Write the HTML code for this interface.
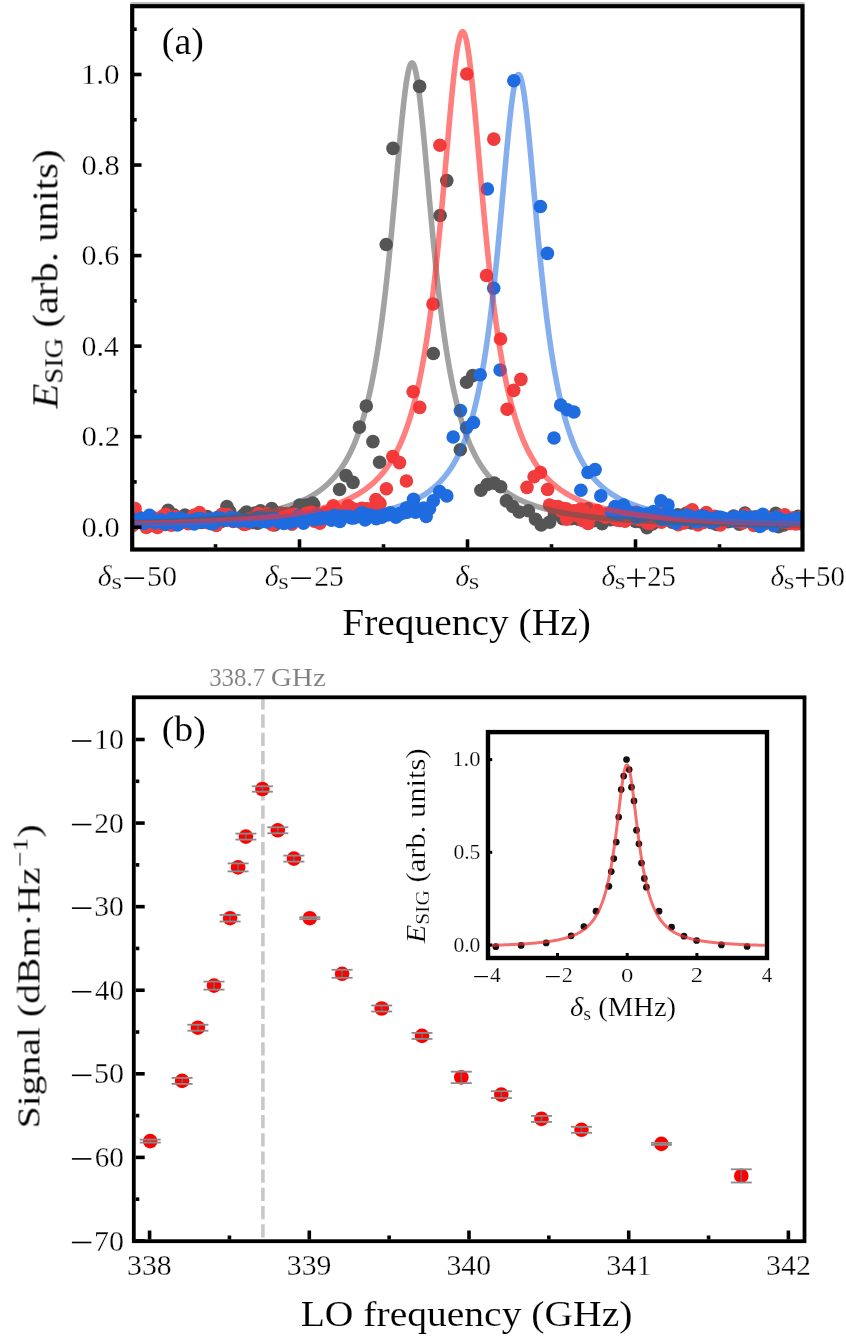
<!DOCTYPE html><html><head><meta charset="utf-8"><title>figure</title><style>html,body{margin:0;padding:0;background:#fff;width:846px;height:1336px;overflow:hidden}</style></head><body><svg width="846" height="1336" viewBox="0 0 846 1336" style="display:block">
<rect width="846" height="1336" fill="#fff"/>
<defs><clipPath id="clipa"><rect x="134.3" y="8.3" width="666.3" height="539.2"/></clipPath><clipPath id="clipi"><rect x="490.2" y="734.3" width="274.6" height="221.6"/></clipPath></defs>
<g clip-path="url(#clipa)">
<g fill="#555555"><circle cx="305.5" cy="505.1" r="6.8"/><circle cx="312.6" cy="503.0" r="6.8"/><circle cx="339.6" cy="489.5" r="6.8"/><circle cx="346.0" cy="475.6" r="6.8"/><circle cx="353.0" cy="482.4" r="6.8"/><circle cx="359.4" cy="427.1" r="6.8"/><circle cx="366.3" cy="406.0" r="6.8"/><circle cx="372.9" cy="441.6" r="6.8"/><circle cx="379.6" cy="462.3" r="6.8"/><circle cx="386.2" cy="244.5" r="6.8"/><circle cx="393.0" cy="148.4" r="6.8"/><circle cx="419.6" cy="86.4" r="6.8"/><circle cx="433.3" cy="353.5" r="6.8"/><circle cx="440.1" cy="215.5" r="6.8"/><circle cx="446.8" cy="180.6" r="6.8"/><circle cx="460.3" cy="449.8" r="6.8"/><circle cx="466.6" cy="382.3" r="6.8"/><circle cx="472.7" cy="375.6" r="6.8"/><circle cx="480.9" cy="490.2" r="6.8"/><circle cx="487.2" cy="484.5" r="6.8"/><circle cx="494.3" cy="483.1" r="6.8"/><circle cx="500.7" cy="486.7" r="6.8"/><circle cx="506.4" cy="500.9" r="6.8"/><circle cx="512.8" cy="506.5" r="6.8"/><circle cx="519.2" cy="512.0" r="6.8"/><circle cx="528.4" cy="510.8" r="6.8"/><circle cx="535.5" cy="519.3" r="6.8"/><circle cx="541.2" cy="525.0" r="6.8"/><circle cx="549.7" cy="522.1" r="6.8"/><circle cx="128.9" cy="527.3" r="6.8"/><circle cx="131.7" cy="522.9" r="6.8"/><circle cx="134.5" cy="524.0" r="6.8"/><circle cx="137.3" cy="519.1" r="6.8"/><circle cx="140.1" cy="521.8" r="6.8"/><circle cx="142.9" cy="521.1" r="6.8"/><circle cx="145.7" cy="524.7" r="6.8"/><circle cx="148.5" cy="520.2" r="6.8"/><circle cx="151.3" cy="519.4" r="6.8"/><circle cx="154.1" cy="521.2" r="6.8"/><circle cx="156.9" cy="520.2" r="6.8"/><circle cx="159.7" cy="518.3" r="6.8"/><circle cx="162.5" cy="517.7" r="6.8"/><circle cx="165.3" cy="524.5" r="6.8"/><circle cx="168.1" cy="510.3" r="6.8"/><circle cx="170.9" cy="517.0" r="6.8"/><circle cx="173.7" cy="514.7" r="6.8"/><circle cx="176.5" cy="520.5" r="6.8"/><circle cx="179.3" cy="520.9" r="6.8"/><circle cx="182.1" cy="520.7" r="6.8"/><circle cx="184.9" cy="515.1" r="6.8"/><circle cx="187.7" cy="518.8" r="6.8"/><circle cx="190.5" cy="517.1" r="6.8"/><circle cx="193.3" cy="518.3" r="6.8"/><circle cx="196.1" cy="519.0" r="6.8"/><circle cx="198.9" cy="518.1" r="6.8"/><circle cx="201.7" cy="522.5" r="6.8"/><circle cx="204.5" cy="518.0" r="6.8"/><circle cx="207.3" cy="516.5" r="6.8"/><circle cx="210.1" cy="522.1" r="6.8"/><circle cx="212.9" cy="521.1" r="6.8"/><circle cx="215.7" cy="521.6" r="6.8"/><circle cx="218.5" cy="520.4" r="6.8"/><circle cx="221.3" cy="521.5" r="6.8"/><circle cx="224.1" cy="520.3" r="6.8"/><circle cx="226.9" cy="506.5" r="6.8"/><circle cx="229.7" cy="511.6" r="6.8"/><circle cx="232.5" cy="518.1" r="6.8"/><circle cx="235.3" cy="518.6" r="6.8"/><circle cx="238.1" cy="520.6" r="6.8"/><circle cx="240.9" cy="517.2" r="6.8"/><circle cx="243.7" cy="514.7" r="6.8"/><circle cx="246.5" cy="512.1" r="6.8"/><circle cx="249.3" cy="514.7" r="6.8"/><circle cx="252.1" cy="522.4" r="6.8"/><circle cx="254.9" cy="513.0" r="6.8"/><circle cx="257.7" cy="523.2" r="6.8"/><circle cx="260.5" cy="510.9" r="6.8"/><circle cx="263.3" cy="516.3" r="6.8"/><circle cx="266.1" cy="516.3" r="6.8"/><circle cx="268.9" cy="514.1" r="6.8"/><circle cx="271.7" cy="508.5" r="6.8"/><circle cx="274.5" cy="524.9" r="6.8"/><circle cx="277.3" cy="513.5" r="6.8"/><circle cx="280.1" cy="516.1" r="6.8"/><circle cx="282.9" cy="513.9" r="6.8"/><circle cx="285.7" cy="518.5" r="6.8"/><circle cx="288.5" cy="518.4" r="6.8"/><circle cx="291.3" cy="514.0" r="6.8"/><circle cx="294.1" cy="512.0" r="6.8"/><circle cx="296.9" cy="517.4" r="6.8"/><circle cx="299.7" cy="505.1" r="6.8"/><circle cx="302.5" cy="512.1" r="6.8"/><circle cx="305.3" cy="513.5" r="6.8"/><circle cx="308.1" cy="511.2" r="6.8"/><circle cx="310.9" cy="509.2" r="6.8"/><circle cx="313.7" cy="504.5" r="6.8"/><circle cx="554.5" cy="513.7" r="6.8"/><circle cx="557.3" cy="514.2" r="6.8"/><circle cx="560.1" cy="512.4" r="6.8"/><circle cx="562.9" cy="518.6" r="6.8"/><circle cx="565.7" cy="516.0" r="6.8"/><circle cx="568.5" cy="517.0" r="6.8"/><circle cx="571.3" cy="518.8" r="6.8"/><circle cx="574.1" cy="518.2" r="6.8"/><circle cx="576.9" cy="518.6" r="6.8"/><circle cx="579.7" cy="519.5" r="6.8"/><circle cx="582.5" cy="516.4" r="6.8"/><circle cx="585.3" cy="518.8" r="6.8"/><circle cx="588.1" cy="508.8" r="6.8"/><circle cx="590.9" cy="517.0" r="6.8"/><circle cx="593.7" cy="520.8" r="6.8"/><circle cx="596.5" cy="516.4" r="6.8"/><circle cx="599.3" cy="519.8" r="6.8"/><circle cx="602.1" cy="523.6" r="6.8"/><circle cx="604.9" cy="514.3" r="6.8"/><circle cx="607.7" cy="519.5" r="6.8"/><circle cx="610.5" cy="519.8" r="6.8"/><circle cx="613.3" cy="516.3" r="6.8"/><circle cx="616.1" cy="518.9" r="6.8"/><circle cx="618.9" cy="519.1" r="6.8"/><circle cx="621.7" cy="513.1" r="6.8"/><circle cx="624.5" cy="520.3" r="6.8"/><circle cx="627.3" cy="516.5" r="6.8"/><circle cx="630.1" cy="517.8" r="6.8"/><circle cx="632.9" cy="518.5" r="6.8"/><circle cx="635.7" cy="521.4" r="6.8"/><circle cx="638.5" cy="520.5" r="6.8"/><circle cx="641.3" cy="522.0" r="6.8"/><circle cx="644.1" cy="521.3" r="6.8"/><circle cx="646.9" cy="527.6" r="6.8"/><circle cx="649.7" cy="517.0" r="6.8"/><circle cx="652.5" cy="523.9" r="6.8"/><circle cx="655.3" cy="519.1" r="6.8"/><circle cx="658.1" cy="518.2" r="6.8"/><circle cx="660.9" cy="521.3" r="6.8"/><circle cx="663.7" cy="515.5" r="6.8"/><circle cx="666.5" cy="513.6" r="6.8"/><circle cx="669.3" cy="518.7" r="6.8"/><circle cx="672.1" cy="522.2" r="6.8"/><circle cx="674.9" cy="517.8" r="6.8"/><circle cx="677.7" cy="514.7" r="6.8"/><circle cx="680.5" cy="517.8" r="6.8"/><circle cx="683.3" cy="520.8" r="6.8"/><circle cx="686.1" cy="513.3" r="6.8"/><circle cx="688.9" cy="522.2" r="6.8"/><circle cx="691.7" cy="522.9" r="6.8"/><circle cx="694.5" cy="522.2" r="6.8"/><circle cx="697.3" cy="519.3" r="6.8"/><circle cx="700.1" cy="519.5" r="6.8"/><circle cx="702.9" cy="517.7" r="6.8"/><circle cx="705.7" cy="520.8" r="6.8"/><circle cx="708.5" cy="520.9" r="6.8"/><circle cx="711.3" cy="522.7" r="6.8"/><circle cx="714.1" cy="518.2" r="6.8"/><circle cx="716.9" cy="524.4" r="6.8"/><circle cx="719.7" cy="520.9" r="6.8"/><circle cx="722.5" cy="518.3" r="6.8"/><circle cx="725.3" cy="520.6" r="6.8"/><circle cx="728.1" cy="521.6" r="6.8"/><circle cx="730.9" cy="519.8" r="6.8"/><circle cx="733.7" cy="516.1" r="6.8"/><circle cx="736.5" cy="517.6" r="6.8"/><circle cx="739.3" cy="524.2" r="6.8"/><circle cx="742.1" cy="521.9" r="6.8"/><circle cx="744.9" cy="513.0" r="6.8"/><circle cx="747.7" cy="520.3" r="6.8"/><circle cx="750.5" cy="519.9" r="6.8"/><circle cx="753.3" cy="521.0" r="6.8"/><circle cx="756.1" cy="516.9" r="6.8"/><circle cx="758.9" cy="518.6" r="6.8"/><circle cx="761.7" cy="519.8" r="6.8"/><circle cx="764.5" cy="523.6" r="6.8"/><circle cx="767.3" cy="517.4" r="6.8"/><circle cx="770.1" cy="518.4" r="6.8"/><circle cx="772.9" cy="518.3" r="6.8"/><circle cx="775.7" cy="513.3" r="6.8"/><circle cx="778.5" cy="526.7" r="6.8"/><circle cx="781.3" cy="523.6" r="6.8"/><circle cx="784.1" cy="525.0" r="6.8"/><circle cx="786.9" cy="522.3" r="6.8"/><circle cx="789.7" cy="521.7" r="6.8"/><circle cx="792.5" cy="520.1" r="6.8"/><circle cx="795.3" cy="520.6" r="6.8"/><circle cx="798.1" cy="516.3" r="6.8"/><circle cx="800.9" cy="523.6" r="6.8"/><circle cx="803.7" cy="520.1" r="6.8"/><circle cx="806.5" cy="520.9" r="6.8"/><circle cx="809.3" cy="523.3" r="6.8"/></g>
<g fill="#f03c3c"><circle cx="333.2" cy="505.8" r="6.8"/><circle cx="380.0" cy="503.7" r="6.8"/><circle cx="386.4" cy="488.8" r="6.8"/><circle cx="392.8" cy="456.6" r="6.8"/><circle cx="399.5" cy="462.6" r="6.8"/><circle cx="406.4" cy="481.0" r="6.8"/><circle cx="413.1" cy="391.7" r="6.8"/><circle cx="419.7" cy="407.4" r="6.8"/><circle cx="433.0" cy="304.0" r="6.8"/><circle cx="439.9" cy="145.3" r="6.8"/><circle cx="466.8" cy="74.0" r="6.8"/><circle cx="486.5" cy="275.5" r="6.8"/><circle cx="493.8" cy="139.1" r="6.8"/><circle cx="500.5" cy="339.0" r="6.8"/><circle cx="507.1" cy="409.3" r="6.8"/><circle cx="513.7" cy="390.4" r="6.8"/><circle cx="520.9" cy="379.4" r="6.8"/><circle cx="527.0" cy="487.4" r="6.8"/><circle cx="534.1" cy="476.7" r="6.8"/><circle cx="540.5" cy="472.5" r="6.8"/><circle cx="547.6" cy="489.5" r="6.8"/><circle cx="554.0" cy="506.5" r="6.8"/><circle cx="566.7" cy="519.3" r="6.8"/><circle cx="573.8" cy="510.8" r="6.8"/><circle cx="583.8" cy="510.8" r="6.8"/><circle cx="588.0" cy="523.5" r="6.8"/><circle cx="129.5" cy="523.3" r="6.8"/><circle cx="132.3" cy="525.8" r="6.8"/><circle cx="135.1" cy="508.5" r="6.8"/><circle cx="137.9" cy="516.5" r="6.8"/><circle cx="140.7" cy="518.3" r="6.8"/><circle cx="143.5" cy="520.8" r="6.8"/><circle cx="146.3" cy="527.5" r="6.8"/><circle cx="149.1" cy="520.6" r="6.8"/><circle cx="151.9" cy="525.4" r="6.8"/><circle cx="154.7" cy="518.1" r="6.8"/><circle cx="157.5" cy="527.4" r="6.8"/><circle cx="160.3" cy="523.1" r="6.8"/><circle cx="163.1" cy="515.9" r="6.8"/><circle cx="165.9" cy="514.4" r="6.8"/><circle cx="168.7" cy="524.0" r="6.8"/><circle cx="171.5" cy="525.2" r="6.8"/><circle cx="174.3" cy="516.9" r="6.8"/><circle cx="177.1" cy="517.0" r="6.8"/><circle cx="179.9" cy="523.2" r="6.8"/><circle cx="182.7" cy="522.2" r="6.8"/><circle cx="185.5" cy="522.1" r="6.8"/><circle cx="188.3" cy="523.8" r="6.8"/><circle cx="191.1" cy="522.0" r="6.8"/><circle cx="193.9" cy="515.4" r="6.8"/><circle cx="196.7" cy="517.3" r="6.8"/><circle cx="199.5" cy="512.6" r="6.8"/><circle cx="202.3" cy="519.9" r="6.8"/><circle cx="205.1" cy="520.0" r="6.8"/><circle cx="207.9" cy="522.8" r="6.8"/><circle cx="210.7" cy="519.8" r="6.8"/><circle cx="213.5" cy="523.8" r="6.8"/><circle cx="216.3" cy="525.4" r="6.8"/><circle cx="219.1" cy="516.9" r="6.8"/><circle cx="221.9" cy="514.3" r="6.8"/><circle cx="224.7" cy="516.3" r="6.8"/><circle cx="227.5" cy="514.6" r="6.8"/><circle cx="230.3" cy="518.2" r="6.8"/><circle cx="233.1" cy="521.4" r="6.8"/><circle cx="235.9" cy="518.6" r="6.8"/><circle cx="238.7" cy="520.1" r="6.8"/><circle cx="241.5" cy="522.6" r="6.8"/><circle cx="244.3" cy="524.5" r="6.8"/><circle cx="247.1" cy="523.7" r="6.8"/><circle cx="249.9" cy="518.6" r="6.8"/><circle cx="252.7" cy="518.0" r="6.8"/><circle cx="255.5" cy="520.0" r="6.8"/><circle cx="258.3" cy="513.5" r="6.8"/><circle cx="261.1" cy="517.6" r="6.8"/><circle cx="263.9" cy="516.2" r="6.8"/><circle cx="266.7" cy="513.9" r="6.8"/><circle cx="269.5" cy="520.8" r="6.8"/><circle cx="272.3" cy="524.6" r="6.8"/><circle cx="275.1" cy="515.2" r="6.8"/><circle cx="277.9" cy="520.0" r="6.8"/><circle cx="280.7" cy="513.1" r="6.8"/><circle cx="283.5" cy="516.3" r="6.8"/><circle cx="286.3" cy="513.9" r="6.8"/><circle cx="289.1" cy="514.5" r="6.8"/><circle cx="291.9" cy="524.1" r="6.8"/><circle cx="294.7" cy="514.4" r="6.8"/><circle cx="297.5" cy="519.0" r="6.8"/><circle cx="300.3" cy="519.1" r="6.8"/><circle cx="303.1" cy="517.8" r="6.8"/><circle cx="305.9" cy="513.6" r="6.8"/><circle cx="308.7" cy="513.0" r="6.8"/><circle cx="311.5" cy="512.4" r="6.8"/><circle cx="314.3" cy="521.2" r="6.8"/><circle cx="317.1" cy="517.4" r="6.8"/><circle cx="319.9" cy="523.2" r="6.8"/><circle cx="322.7" cy="515.2" r="6.8"/><circle cx="325.5" cy="512.6" r="6.8"/><circle cx="328.3" cy="516.9" r="6.8"/><circle cx="331.1" cy="513.2" r="6.8"/><circle cx="333.9" cy="512.9" r="6.8"/><circle cx="336.7" cy="510.0" r="6.8"/><circle cx="339.5" cy="515.8" r="6.8"/><circle cx="342.3" cy="515.4" r="6.8"/><circle cx="345.1" cy="514.8" r="6.8"/><circle cx="347.9" cy="505.8" r="6.8"/><circle cx="350.7" cy="507.6" r="6.8"/><circle cx="353.5" cy="511.3" r="6.8"/><circle cx="356.3" cy="509.5" r="6.8"/><circle cx="359.1" cy="509.3" r="6.8"/><circle cx="361.9" cy="508.4" r="6.8"/><circle cx="364.7" cy="509.1" r="6.8"/><circle cx="367.5" cy="508.9" r="6.8"/><circle cx="370.3" cy="511.2" r="6.8"/><circle cx="373.1" cy="508.3" r="6.8"/><circle cx="375.9" cy="499.6" r="6.8"/><circle cx="378.7" cy="502.4" r="6.8"/><circle cx="549.5" cy="505.0" r="6.8"/><circle cx="552.3" cy="506.9" r="6.8"/><circle cx="555.1" cy="506.8" r="6.8"/><circle cx="557.9" cy="506.6" r="6.8"/><circle cx="560.7" cy="510.7" r="6.8"/><circle cx="563.5" cy="508.5" r="6.8"/><circle cx="566.3" cy="508.9" r="6.8"/><circle cx="569.1" cy="512.9" r="6.8"/><circle cx="571.9" cy="513.5" r="6.8"/><circle cx="574.7" cy="514.7" r="6.8"/><circle cx="577.5" cy="515.4" r="6.8"/><circle cx="580.3" cy="509.2" r="6.8"/><circle cx="583.1" cy="520.7" r="6.8"/><circle cx="585.9" cy="513.9" r="6.8"/><circle cx="588.7" cy="515.5" r="6.8"/><circle cx="591.5" cy="515.8" r="6.8"/><circle cx="594.3" cy="513.7" r="6.8"/><circle cx="597.1" cy="510.5" r="6.8"/><circle cx="599.9" cy="514.4" r="6.8"/><circle cx="602.7" cy="515.4" r="6.8"/><circle cx="605.5" cy="517.2" r="6.8"/><circle cx="608.3" cy="515.8" r="6.8"/><circle cx="611.1" cy="512.5" r="6.8"/><circle cx="613.9" cy="517.1" r="6.8"/><circle cx="616.7" cy="519.9" r="6.8"/><circle cx="619.5" cy="520.5" r="6.8"/><circle cx="622.3" cy="520.1" r="6.8"/><circle cx="625.1" cy="521.3" r="6.8"/><circle cx="627.9" cy="513.0" r="6.8"/><circle cx="630.7" cy="515.7" r="6.8"/><circle cx="633.5" cy="517.8" r="6.8"/><circle cx="636.3" cy="512.2" r="6.8"/><circle cx="639.1" cy="519.5" r="6.8"/><circle cx="641.9" cy="514.9" r="6.8"/><circle cx="644.7" cy="514.8" r="6.8"/><circle cx="647.5" cy="522.9" r="6.8"/><circle cx="650.3" cy="523.1" r="6.8"/><circle cx="653.1" cy="521.0" r="6.8"/><circle cx="655.9" cy="514.9" r="6.8"/><circle cx="658.7" cy="513.7" r="6.8"/><circle cx="661.5" cy="522.3" r="6.8"/><circle cx="664.3" cy="514.7" r="6.8"/><circle cx="667.1" cy="519.6" r="6.8"/><circle cx="669.9" cy="519.8" r="6.8"/><circle cx="672.7" cy="520.4" r="6.8"/><circle cx="675.5" cy="519.7" r="6.8"/><circle cx="678.3" cy="524.8" r="6.8"/><circle cx="681.1" cy="522.1" r="6.8"/><circle cx="683.9" cy="523.0" r="6.8"/><circle cx="686.7" cy="517.2" r="6.8"/><circle cx="689.5" cy="511.8" r="6.8"/><circle cx="692.3" cy="509.7" r="6.8"/><circle cx="695.1" cy="520.2" r="6.8"/><circle cx="697.9" cy="525.0" r="6.8"/><circle cx="700.7" cy="520.6" r="6.8"/><circle cx="703.5" cy="522.4" r="6.8"/><circle cx="706.3" cy="512.5" r="6.8"/><circle cx="709.1" cy="517.4" r="6.8"/><circle cx="711.9" cy="521.9" r="6.8"/><circle cx="714.7" cy="516.3" r="6.8"/><circle cx="717.5" cy="517.7" r="6.8"/><circle cx="720.3" cy="525.0" r="6.8"/><circle cx="723.1" cy="521.4" r="6.8"/><circle cx="725.9" cy="520.4" r="6.8"/><circle cx="728.7" cy="519.6" r="6.8"/><circle cx="731.5" cy="519.2" r="6.8"/><circle cx="734.3" cy="520.9" r="6.8"/><circle cx="737.1" cy="519.1" r="6.8"/><circle cx="739.9" cy="521.8" r="6.8"/><circle cx="742.7" cy="522.9" r="6.8"/><circle cx="745.5" cy="514.7" r="6.8"/><circle cx="748.3" cy="518.7" r="6.8"/><circle cx="751.1" cy="518.4" r="6.8"/><circle cx="753.9" cy="525.4" r="6.8"/><circle cx="756.7" cy="520.5" r="6.8"/><circle cx="759.5" cy="517.2" r="6.8"/><circle cx="762.3" cy="524.4" r="6.8"/><circle cx="765.1" cy="516.3" r="6.8"/><circle cx="767.9" cy="521.4" r="6.8"/><circle cx="770.7" cy="518.8" r="6.8"/><circle cx="773.5" cy="520.6" r="6.8"/><circle cx="776.3" cy="519.4" r="6.8"/><circle cx="779.1" cy="516.1" r="6.8"/><circle cx="781.9" cy="521.6" r="6.8"/><circle cx="784.7" cy="514.9" r="6.8"/><circle cx="787.5" cy="522.9" r="6.8"/><circle cx="790.3" cy="523.4" r="6.8"/><circle cx="793.1" cy="517.9" r="6.8"/><circle cx="795.9" cy="523.9" r="6.8"/><circle cx="798.7" cy="521.6" r="6.8"/><circle cx="801.5" cy="517.3" r="6.8"/><circle cx="804.3" cy="516.3" r="6.8"/><circle cx="807.1" cy="526.4" r="6.8"/><circle cx="809.9" cy="518.7" r="6.8"/></g>
<g fill="#1f6be0"><circle cx="400.0" cy="513.6" r="6.8"/><circle cx="406.2" cy="508.0" r="6.8"/><circle cx="413.5" cy="499.4" r="6.8"/><circle cx="419.9" cy="509.4" r="6.8"/><circle cx="426.2" cy="516.5" r="6.8"/><circle cx="433.3" cy="500.9" r="6.8"/><circle cx="439.7" cy="491.6" r="6.8"/><circle cx="446.8" cy="495.9" r="6.8"/><circle cx="453.2" cy="437.0" r="6.8"/><circle cx="460.4" cy="410.6" r="6.8"/><circle cx="466.6" cy="427.7" r="6.8"/><circle cx="473.5" cy="422.5" r="6.8"/><circle cx="480.2" cy="374.7" r="6.8"/><circle cx="487.4" cy="189.0" r="6.8"/><circle cx="493.7" cy="288.2" r="6.8"/><circle cx="500.1" cy="370.0" r="6.8"/><circle cx="513.8" cy="80.7" r="6.8"/><circle cx="540.4" cy="206.5" r="6.8"/><circle cx="547.4" cy="253.4" r="6.8"/><circle cx="554.0" cy="438.0" r="6.8"/><circle cx="560.7" cy="405.0" r="6.8"/><circle cx="567.3" cy="409.7" r="6.8"/><circle cx="573.9" cy="412.0" r="6.8"/><circle cx="580.9" cy="490.2" r="6.8"/><circle cx="588.0" cy="472.5" r="6.8"/><circle cx="595.1" cy="469.6" r="6.8"/><circle cx="600.8" cy="495.9" r="6.8"/><circle cx="615.0" cy="506.5" r="6.8"/><circle cx="623.5" cy="505.1" r="6.8"/><circle cx="661.0" cy="500.9" r="6.8"/><circle cx="668.0" cy="505.0" r="6.8"/><circle cx="129.9" cy="517.0" r="6.8"/><circle cx="132.7" cy="523.4" r="6.8"/><circle cx="135.5" cy="521.2" r="6.8"/><circle cx="138.3" cy="520.0" r="6.8"/><circle cx="141.1" cy="518.4" r="6.8"/><circle cx="143.9" cy="523.5" r="6.8"/><circle cx="146.7" cy="520.8" r="6.8"/><circle cx="149.5" cy="515.4" r="6.8"/><circle cx="152.3" cy="519.8" r="6.8"/><circle cx="155.1" cy="522.8" r="6.8"/><circle cx="157.9" cy="520.9" r="6.8"/><circle cx="160.7" cy="519.9" r="6.8"/><circle cx="163.5" cy="523.2" r="6.8"/><circle cx="166.3" cy="523.8" r="6.8"/><circle cx="169.1" cy="520.5" r="6.8"/><circle cx="171.9" cy="518.3" r="6.8"/><circle cx="174.7" cy="519.6" r="6.8"/><circle cx="177.5" cy="525.0" r="6.8"/><circle cx="180.3" cy="518.0" r="6.8"/><circle cx="183.1" cy="519.2" r="6.8"/><circle cx="185.9" cy="521.3" r="6.8"/><circle cx="188.7" cy="521.6" r="6.8"/><circle cx="191.5" cy="520.4" r="6.8"/><circle cx="194.3" cy="523.9" r="6.8"/><circle cx="197.1" cy="519.0" r="6.8"/><circle cx="199.9" cy="518.6" r="6.8"/><circle cx="202.7" cy="521.8" r="6.8"/><circle cx="205.5" cy="521.0" r="6.8"/><circle cx="208.3" cy="519.2" r="6.8"/><circle cx="211.1" cy="523.8" r="6.8"/><circle cx="213.9" cy="523.5" r="6.8"/><circle cx="216.7" cy="517.9" r="6.8"/><circle cx="219.5" cy="517.8" r="6.8"/><circle cx="222.3" cy="519.0" r="6.8"/><circle cx="225.1" cy="520.1" r="6.8"/><circle cx="227.9" cy="519.8" r="6.8"/><circle cx="230.7" cy="517.2" r="6.8"/><circle cx="233.5" cy="521.0" r="6.8"/><circle cx="236.3" cy="518.5" r="6.8"/><circle cx="239.1" cy="520.9" r="6.8"/><circle cx="241.9" cy="520.8" r="6.8"/><circle cx="244.7" cy="520.2" r="6.8"/><circle cx="247.5" cy="521.1" r="6.8"/><circle cx="250.3" cy="521.6" r="6.8"/><circle cx="253.1" cy="520.1" r="6.8"/><circle cx="255.9" cy="519.2" r="6.8"/><circle cx="258.7" cy="517.6" r="6.8"/><circle cx="261.5" cy="521.7" r="6.8"/><circle cx="264.3" cy="519.1" r="6.8"/><circle cx="267.1" cy="522.0" r="6.8"/><circle cx="269.9" cy="518.5" r="6.8"/><circle cx="272.7" cy="519.0" r="6.8"/><circle cx="275.5" cy="518.6" r="6.8"/><circle cx="278.3" cy="521.6" r="6.8"/><circle cx="281.1" cy="521.8" r="6.8"/><circle cx="283.9" cy="523.5" r="6.8"/><circle cx="286.7" cy="520.3" r="6.8"/><circle cx="289.5" cy="522.6" r="6.8"/><circle cx="292.3" cy="522.0" r="6.8"/><circle cx="295.1" cy="519.0" r="6.8"/><circle cx="297.9" cy="516.0" r="6.8"/><circle cx="300.7" cy="517.6" r="6.8"/><circle cx="303.5" cy="523.3" r="6.8"/><circle cx="306.3" cy="519.9" r="6.8"/><circle cx="309.1" cy="517.5" r="6.8"/><circle cx="311.9" cy="517.8" r="6.8"/><circle cx="314.7" cy="519.6" r="6.8"/><circle cx="317.5" cy="514.6" r="6.8"/><circle cx="320.3" cy="518.9" r="6.8"/><circle cx="323.1" cy="517.7" r="6.8"/><circle cx="325.9" cy="517.5" r="6.8"/><circle cx="328.7" cy="518.8" r="6.8"/><circle cx="331.5" cy="520.1" r="6.8"/><circle cx="334.3" cy="515.2" r="6.8"/><circle cx="337.1" cy="516.1" r="6.8"/><circle cx="339.9" cy="521.4" r="6.8"/><circle cx="342.7" cy="516.4" r="6.8"/><circle cx="345.5" cy="516.5" r="6.8"/><circle cx="348.3" cy="516.4" r="6.8"/><circle cx="351.1" cy="517.9" r="6.8"/><circle cx="353.9" cy="518.0" r="6.8"/><circle cx="356.7" cy="516.6" r="6.8"/><circle cx="359.5" cy="514.4" r="6.8"/><circle cx="362.3" cy="512.7" r="6.8"/><circle cx="365.1" cy="519.9" r="6.8"/><circle cx="367.9" cy="515.1" r="6.8"/><circle cx="370.7" cy="515.1" r="6.8"/><circle cx="373.5" cy="516.4" r="6.8"/><circle cx="376.3" cy="518.7" r="6.8"/><circle cx="379.1" cy="516.7" r="6.8"/><circle cx="381.9" cy="517.1" r="6.8"/><circle cx="384.7" cy="514.8" r="6.8"/><circle cx="387.5" cy="515.0" r="6.8"/><circle cx="390.3" cy="512.7" r="6.8"/><circle cx="393.1" cy="514.3" r="6.8"/><circle cx="395.9" cy="517.2" r="6.8"/><circle cx="398.7" cy="514.6" r="6.8"/><circle cx="401.5" cy="513.2" r="6.8"/><circle cx="404.3" cy="512.6" r="6.8"/><circle cx="407.1" cy="512.1" r="6.8"/><circle cx="409.9" cy="509.1" r="6.8"/><circle cx="412.7" cy="507.7" r="6.8"/><circle cx="415.5" cy="512.2" r="6.8"/><circle cx="418.3" cy="510.8" r="6.8"/><circle cx="421.1" cy="510.4" r="6.8"/><circle cx="423.9" cy="508.1" r="6.8"/><circle cx="426.7" cy="510.3" r="6.8"/><circle cx="429.5" cy="508.7" r="6.8"/><circle cx="611.5" cy="511.7" r="6.8"/><circle cx="614.3" cy="512.9" r="6.8"/><circle cx="617.1" cy="510.6" r="6.8"/><circle cx="619.9" cy="514.1" r="6.8"/><circle cx="622.7" cy="511.0" r="6.8"/><circle cx="625.5" cy="509.4" r="6.8"/><circle cx="628.3" cy="512.7" r="6.8"/><circle cx="631.1" cy="512.7" r="6.8"/><circle cx="633.9" cy="514.8" r="6.8"/><circle cx="636.7" cy="517.3" r="6.8"/><circle cx="639.5" cy="513.5" r="6.8"/><circle cx="642.3" cy="515.9" r="6.8"/><circle cx="645.1" cy="514.3" r="6.8"/><circle cx="647.9" cy="514.1" r="6.8"/><circle cx="650.7" cy="513.5" r="6.8"/><circle cx="653.5" cy="511.5" r="6.8"/><circle cx="656.3" cy="515.6" r="6.8"/><circle cx="659.1" cy="515.2" r="6.8"/><circle cx="661.9" cy="519.4" r="6.8"/><circle cx="664.7" cy="514.8" r="6.8"/><circle cx="667.5" cy="519.0" r="6.8"/><circle cx="670.3" cy="519.2" r="6.8"/><circle cx="673.1" cy="515.6" r="6.8"/><circle cx="675.9" cy="523.1" r="6.8"/><circle cx="678.7" cy="517.6" r="6.8"/><circle cx="681.5" cy="517.0" r="6.8"/><circle cx="684.3" cy="519.2" r="6.8"/><circle cx="687.1" cy="515.0" r="6.8"/><circle cx="689.9" cy="519.7" r="6.8"/><circle cx="692.7" cy="517.4" r="6.8"/><circle cx="695.5" cy="521.8" r="6.8"/><circle cx="698.3" cy="521.8" r="6.8"/><circle cx="701.1" cy="515.9" r="6.8"/><circle cx="703.9" cy="516.2" r="6.8"/><circle cx="706.7" cy="520.7" r="6.8"/><circle cx="709.5" cy="518.2" r="6.8"/><circle cx="712.3" cy="522.1" r="6.8"/><circle cx="715.1" cy="521.5" r="6.8"/><circle cx="717.9" cy="517.0" r="6.8"/><circle cx="720.7" cy="517.2" r="6.8"/><circle cx="723.5" cy="518.2" r="6.8"/><circle cx="726.3" cy="519.4" r="6.8"/><circle cx="729.1" cy="519.1" r="6.8"/><circle cx="731.9" cy="521.0" r="6.8"/><circle cx="734.7" cy="517.0" r="6.8"/><circle cx="737.5" cy="520.4" r="6.8"/><circle cx="740.3" cy="520.4" r="6.8"/><circle cx="743.1" cy="516.6" r="6.8"/><circle cx="745.9" cy="520.5" r="6.8"/><circle cx="748.7" cy="521.1" r="6.8"/><circle cx="751.5" cy="517.0" r="6.8"/><circle cx="754.3" cy="521.9" r="6.8"/><circle cx="757.1" cy="520.7" r="6.8"/><circle cx="759.9" cy="526.4" r="6.8"/><circle cx="762.7" cy="514.2" r="6.8"/><circle cx="765.5" cy="521.8" r="6.8"/><circle cx="768.3" cy="522.3" r="6.8"/><circle cx="771.1" cy="519.4" r="6.8"/><circle cx="773.9" cy="525.6" r="6.8"/><circle cx="776.7" cy="517.1" r="6.8"/><circle cx="779.5" cy="519.6" r="6.8"/><circle cx="782.3" cy="520.1" r="6.8"/><circle cx="785.1" cy="521.6" r="6.8"/><circle cx="787.9" cy="520.6" r="6.8"/><circle cx="790.7" cy="519.7" r="6.8"/><circle cx="793.5" cy="519.5" r="6.8"/><circle cx="796.3" cy="518.3" r="6.8"/><circle cx="799.1" cy="518.9" r="6.8"/><circle cx="801.9" cy="519.3" r="6.8"/><circle cx="804.7" cy="518.1" r="6.8"/><circle cx="807.5" cy="521.7" r="6.8"/></g>
<path d="M132.0,522.92L132.5,522.91L133.0,522.89L133.5,522.88L134.0,522.86L134.5,522.85L135.0,522.83L135.5,522.81L136.0,522.80L136.5,522.78L137.0,522.77L137.5,522.75L138.0,522.74L138.5,522.72L139.0,522.70L139.5,522.69L140.0,522.67L140.5,522.65L141.0,522.64L141.5,522.62L142.0,522.60L142.5,522.59L143.0,522.57L143.5,522.55L144.0,522.53L144.5,522.52L145.0,522.50L145.5,522.48L146.0,522.47L146.5,522.45L147.0,522.43L147.5,522.41L148.0,522.39L148.5,522.38L149.0,522.36L149.5,522.34L150.0,522.32L150.5,522.30L151.0,522.28L151.5,522.27L152.0,522.25L152.5,522.23L153.0,522.21L153.5,522.19L154.0,522.17L154.5,522.15L155.0,522.13L155.5,522.11L156.0,522.09L156.5,522.07L157.0,522.05L157.5,522.03L158.0,522.01L158.5,521.99L159.0,521.97L159.5,521.95L160.0,521.93L160.5,521.91L161.0,521.89L161.5,521.87L162.0,521.85L162.5,521.83L163.0,521.80L163.5,521.78L164.0,521.76L164.5,521.74L165.0,521.72L165.5,521.70L166.0,521.67L166.5,521.65L167.0,521.63L167.5,521.61L168.0,521.58L168.5,521.56L169.0,521.54L169.5,521.51L170.0,521.49L170.5,521.47L171.0,521.44L171.5,521.42L172.0,521.40L172.5,521.37L173.0,521.35L173.5,521.32L174.0,521.30L174.5,521.28L175.0,521.25L175.5,521.23L176.0,521.20L176.5,521.18L177.0,521.15L177.5,521.13L178.0,521.10L178.5,521.07L179.0,521.05L179.5,521.02L180.0,521.00L180.5,520.97L181.0,520.94L181.5,520.92L182.0,520.89L182.5,520.86L183.0,520.83L183.5,520.81L184.0,520.78L184.5,520.75L185.0,520.72L185.5,520.69L186.0,520.67L186.5,520.64L187.0,520.61L187.5,520.58L188.0,520.55L188.5,520.52L189.0,520.49L189.5,520.46L190.0,520.43L190.5,520.40L191.0,520.37L191.5,520.34L192.0,520.31L192.5,520.28L193.0,520.25L193.5,520.22L194.0,520.19L194.5,520.15L195.0,520.12L195.5,520.09L196.0,520.06L196.5,520.02L197.0,519.99L197.5,519.96L198.0,519.93L198.5,519.89L199.0,519.86L199.5,519.82L200.0,519.79L200.5,519.75L201.0,519.72L201.5,519.69L202.0,519.65L202.5,519.61L203.0,519.58L203.5,519.54L204.0,519.51L204.5,519.47L205.0,519.43L205.5,519.40L206.0,519.36L206.5,519.32L207.0,519.28L207.5,519.25L208.0,519.21L208.5,519.17L209.0,519.13L209.5,519.09L210.0,519.05L210.5,519.01L211.0,518.97L211.5,518.93L212.0,518.89L212.5,518.85L213.0,518.81L213.5,518.77L214.0,518.72L214.5,518.68L215.0,518.64L215.5,518.60L216.0,518.55L216.5,518.51L217.0,518.47L217.5,518.42L218.0,518.38L218.5,518.33L219.0,518.29L219.5,518.24L220.0,518.20L220.5,518.15L221.0,518.10L221.5,518.06L222.0,518.01L222.5,517.96L223.0,517.91L223.5,517.87L224.0,517.82L224.5,517.77L225.0,517.72L225.5,517.67L226.0,517.62L226.5,517.57L227.0,517.52L227.5,517.47L228.0,517.41L228.5,517.36L229.0,517.31L229.5,517.26L230.0,517.20L230.5,517.15L231.0,517.09L231.5,517.04L232.0,516.98L232.5,516.93L233.0,516.87L233.5,516.81L234.0,516.76L234.5,516.70L235.0,516.64L235.5,516.58L236.0,516.52L236.5,516.46L237.0,516.40L237.5,516.34L238.0,516.28L238.5,516.22L239.0,516.16L239.5,516.10L240.0,516.03L240.5,515.97L241.0,515.91L241.5,515.84L242.0,515.78L242.5,515.71L243.0,515.64L243.5,515.58L244.0,515.51L244.5,515.44L245.0,515.37L245.5,515.30L246.0,515.23L246.5,515.16L247.0,515.09L247.5,515.02L248.0,514.95L248.5,514.87L249.0,514.80L249.5,514.73L250.0,514.65L250.5,514.58L251.0,514.50L251.5,514.42L252.0,514.34L252.5,514.27L253.0,514.19L253.5,514.11L254.0,514.03L254.5,513.95L255.0,513.86L255.5,513.78L256.0,513.70L256.5,513.61L257.0,513.53L257.5,513.44L258.0,513.35L258.5,513.27L259.0,513.18L259.5,513.09L260.0,513.00L260.5,512.91L261.0,512.82L261.5,512.72L262.0,512.63L262.5,512.53L263.0,512.44L263.5,512.34L264.0,512.25L264.5,512.15L265.0,512.05L265.5,511.95L266.0,511.85L266.5,511.74L267.0,511.64L267.5,511.54L268.0,511.43L268.5,511.33L269.0,511.22L269.5,511.11L270.0,511.00L270.5,510.89L271.0,510.78L271.5,510.66L272.0,510.55L272.5,510.44L273.0,510.32L273.5,510.20L274.0,510.08L274.5,509.96L275.0,509.84L275.5,509.72L276.0,509.59L276.5,509.47L277.0,509.34L277.5,509.21L278.0,509.09L278.5,508.96L279.0,508.82L279.5,508.69L280.0,508.55L280.5,508.42L281.0,508.28L281.5,508.14L282.0,508.00L282.5,507.86L283.0,507.71L283.5,507.57L284.0,507.42L284.5,507.27L285.0,507.12L285.5,506.97L286.0,506.82L286.5,506.66L287.0,506.50L287.5,506.34L288.0,506.18L288.5,506.02L289.0,505.86L289.5,505.69L290.0,505.52L290.5,505.35L291.0,505.18L291.5,505.00L292.0,504.83L292.5,504.65L293.0,504.47L293.5,504.29L294.0,504.10L294.5,503.91L295.0,503.72L295.5,503.53L296.0,503.34L296.5,503.14L297.0,502.94L297.5,502.74L298.0,502.54L298.5,502.33L299.0,502.12L299.5,501.91L300.0,501.70L300.5,501.48L301.0,501.26L301.5,501.04L302.0,500.82L302.5,500.59L303.0,500.36L303.5,500.13L304.0,499.89L304.5,499.65L305.0,499.41L305.5,499.16L306.0,498.91L306.5,498.66L307.0,498.40L307.5,498.15L308.0,497.88L308.5,497.62L309.0,497.35L309.5,497.07L310.0,496.80L310.5,496.52L311.0,496.23L311.5,495.95L312.0,495.65L312.5,495.36L313.0,495.06L313.5,494.75L314.0,494.44L314.5,494.13L315.0,493.81L315.5,493.49L316.0,493.17L316.5,492.84L317.0,492.50L317.5,492.16L318.0,491.81L318.5,491.46L319.0,491.11L319.5,490.75L320.0,490.38L320.5,490.01L321.0,489.63L321.5,489.25L322.0,488.86L322.5,488.47L323.0,488.07L323.5,487.67L324.0,487.25L324.5,486.84L325.0,486.41L325.5,485.98L326.0,485.54L326.5,485.10L327.0,484.65L327.5,484.19L328.0,483.72L328.5,483.25L329.0,482.77L329.5,482.28L330.0,481.79L330.5,481.28L331.0,480.77L331.5,480.25L332.0,479.72L332.5,479.19L333.0,478.64L333.5,478.08L334.0,477.52L334.5,476.95L335.0,476.36L335.5,475.77L336.0,475.17L336.5,474.56L337.0,473.93L337.5,473.30L338.0,472.65L338.5,472.00L339.0,471.33L339.5,470.65L340.0,469.96L340.5,469.26L341.0,468.54L341.5,467.81L342.0,467.07L342.5,466.32L343.0,465.55L343.5,464.77L344.0,463.97L344.5,463.16L345.0,462.33L345.5,461.49L346.0,460.64L346.5,459.77L347.0,458.88L347.5,457.97L348.0,457.05L348.5,456.11L349.0,455.16L349.5,454.18L350.0,453.19L350.5,452.17L351.0,451.14L351.5,450.09L352.0,449.01L352.5,447.92L353.0,446.80L353.5,445.67L354.0,444.51L354.5,443.32L355.0,442.12L355.5,440.88L356.0,439.63L356.5,438.35L357.0,437.04L357.5,435.70L358.0,434.34L358.5,432.95L359.0,431.53L359.5,430.09L360.0,428.61L360.5,427.10L361.0,425.56L361.5,423.99L362.0,422.38L362.5,420.74L363.0,419.06L363.5,417.35L364.0,415.61L364.5,413.82L365.0,412.00L365.5,410.13L366.0,408.23L366.5,406.29L367.0,404.30L367.5,402.27L368.0,400.20L368.5,398.08L369.0,395.91L369.5,393.70L370.0,391.43L370.5,389.12L371.0,386.76L371.5,384.34L372.0,381.87L372.5,379.35L373.0,376.77L373.5,374.13L374.0,371.44L374.5,368.69L375.0,365.87L375.5,363.00L376.0,360.06L376.5,357.05L377.0,353.98L377.5,350.85L378.0,347.64L378.5,344.37L379.0,341.02L379.5,337.61L380.0,334.12L380.5,330.56L381.0,326.92L381.5,323.21L382.0,319.42L382.5,315.56L383.0,311.62L383.5,307.59L384.0,303.49L384.5,299.31L385.0,295.06L385.5,290.72L386.0,286.30L386.5,281.80L387.0,277.22L387.5,272.57L388.0,267.84L388.5,263.03L389.0,258.15L389.5,253.19L390.0,248.17L390.5,243.07L391.0,237.91L391.5,232.69L392.0,227.41L392.5,222.07L393.0,216.68L393.5,211.25L394.0,205.77L394.5,200.26L395.0,194.72L395.5,189.16L396.0,183.58L396.5,178.00L397.0,172.41L397.5,166.84L398.0,161.29L398.5,155.77L399.0,150.29L399.5,144.86L400.0,139.49L400.5,134.21L401.0,129.00L401.5,123.90L402.0,118.92L402.5,114.06L403.0,109.34L403.5,104.78L404.0,100.38L404.5,96.17L405.0,92.15L405.5,88.35L406.0,84.76L406.5,81.41L407.0,78.31L407.5,75.46L408.0,72.88L408.5,70.58L409.0,68.57L409.5,66.86L410.0,65.44L410.5,64.34L411.0,63.55L411.5,63.07L412.0,62.91L412.5,63.07L413.0,63.55L413.5,64.34L414.0,65.44L414.5,66.86L415.0,68.57L415.5,70.58L416.0,72.88L416.5,75.46L417.0,78.31L417.5,81.41L418.0,84.76L418.5,88.35L419.0,92.15L419.5,96.17L420.0,100.38L420.5,104.78L421.0,109.34L421.5,114.06L422.0,118.92L422.5,123.90L423.0,129.00L423.5,134.21L424.0,139.49L424.5,144.86L425.0,150.29L425.5,155.77L426.0,161.29L426.5,166.84L427.0,172.41L427.5,178.00L428.0,183.58L428.5,189.16L429.0,194.72L429.5,200.26L430.0,205.77L430.5,211.25L431.0,216.68L431.5,222.07L432.0,227.41L432.5,232.69L433.0,237.91L433.5,243.07L434.0,248.17L434.5,253.19L435.0,258.15L435.5,263.03L436.0,267.84L436.5,272.57L437.0,277.22L437.5,281.80L438.0,286.30L438.5,290.72L439.0,295.06L439.5,299.31L440.0,303.49L440.5,307.59L441.0,311.62L441.5,315.56L442.0,319.42L442.5,323.21L443.0,326.92L443.5,330.56L444.0,334.12L444.5,337.61L445.0,341.02L445.5,344.37L446.0,347.64L446.5,350.85L447.0,353.98L447.5,357.05L448.0,360.06L448.5,363.00L449.0,365.87L449.5,368.69L450.0,371.44L450.5,374.13L451.0,376.77L451.5,379.35L452.0,381.87L452.5,384.34L453.0,386.76L453.5,389.12L454.0,391.43L454.5,393.70L455.0,395.91L455.5,398.08L456.0,400.20L456.5,402.27L457.0,404.30L457.5,406.29L458.0,408.23L458.5,410.13L459.0,412.00L459.5,413.82L460.0,415.61L460.5,417.35L461.0,419.06L461.5,420.74L462.0,422.38L462.5,423.99L463.0,425.56L463.5,427.10L464.0,428.61L464.5,430.09L465.0,431.53L465.5,432.95L466.0,434.34L466.5,435.70L467.0,437.04L467.5,438.35L468.0,439.63L468.5,440.88L469.0,442.12L469.5,443.32L470.0,444.51L470.5,445.67L471.0,446.80L471.5,447.92L472.0,449.01L472.5,450.09L473.0,451.14L473.5,452.17L474.0,453.19L474.5,454.18L475.0,455.16L475.5,456.11L476.0,457.05L476.5,457.97L477.0,458.88L477.5,459.77L478.0,460.64L478.5,461.49L479.0,462.33L479.5,463.16L480.0,463.97L480.5,464.77L481.0,465.55L481.5,466.32L482.0,467.07L482.5,467.81L483.0,468.54L483.5,469.26L484.0,469.96L484.5,470.65L485.0,471.33L485.5,472.00L486.0,472.65L486.5,473.30L487.0,473.93L487.5,474.56L488.0,475.17L488.5,475.77L489.0,476.36L489.5,476.95L490.0,477.52L490.5,478.08L491.0,478.64L491.5,479.19L492.0,479.72L492.5,480.25L493.0,480.77L493.5,481.28L494.0,481.79L494.5,482.28L495.0,482.77L495.5,483.25L496.0,483.72L496.5,484.19L497.0,484.65L497.5,485.10L498.0,485.54L498.5,485.98L499.0,486.41L499.5,486.84L500.0,487.25L500.5,487.67L501.0,488.07L501.5,488.47L502.0,488.86L502.5,489.25L503.0,489.63L503.5,490.01L504.0,490.38L504.5,490.75L505.0,491.11L505.5,491.46L506.0,491.81L506.5,492.16L507.0,492.50L507.5,492.84L508.0,493.17L508.5,493.49L509.0,493.81L509.5,494.13L510.0,494.44L510.5,494.75L511.0,495.06L511.5,495.36L512.0,495.65L512.5,495.95L513.0,496.23L513.5,496.52L514.0,496.80L514.5,497.07L515.0,497.35L515.5,497.62L516.0,497.88L516.5,498.15L517.0,498.40L517.5,498.66L518.0,498.91L518.5,499.16L519.0,499.41L519.5,499.65L520.0,499.89L520.5,500.13L521.0,500.36L521.5,500.59L522.0,500.82L522.5,501.04L523.0,501.26L523.5,501.48L524.0,501.70L524.5,501.91L525.0,502.12L525.5,502.33L526.0,502.54L526.5,502.74L527.0,502.94L527.5,503.14L528.0,503.34L528.5,503.53L529.0,503.72L529.5,503.91L530.0,504.10L530.5,504.29L531.0,504.47L531.5,504.65L532.0,504.83L532.5,505.00L533.0,505.18L533.5,505.35L534.0,505.52L534.5,505.69L535.0,505.86L535.5,506.02L536.0,506.18L536.5,506.34L537.0,506.50L537.5,506.66L538.0,506.82L538.5,506.97L539.0,507.12L539.5,507.27L540.0,507.42L540.5,507.57L541.0,507.71L541.5,507.86L542.0,508.00L542.5,508.14L543.0,508.28L543.5,508.42L544.0,508.55L544.5,508.69L545.0,508.82L545.5,508.96L546.0,509.09L546.5,509.21L547.0,509.34L547.5,509.47L548.0,509.59L548.5,509.72L549.0,509.84L549.5,509.96L550.0,510.08L550.5,510.20L551.0,510.32L551.5,510.44L552.0,510.55L552.5,510.66L553.0,510.78L553.5,510.89L554.0,511.00L554.5,511.11L555.0,511.22L555.5,511.33L556.0,511.43L556.5,511.54L557.0,511.64L557.5,511.74L558.0,511.85L558.5,511.95L559.0,512.05L559.5,512.15L560.0,512.25L560.5,512.34L561.0,512.44L561.5,512.53L562.0,512.63L562.5,512.72L563.0,512.82L563.5,512.91L564.0,513.00L564.5,513.09L565.0,513.18L565.5,513.27L566.0,513.35L566.5,513.44L567.0,513.53L567.5,513.61L568.0,513.70L568.5,513.78L569.0,513.86L569.5,513.95L570.0,514.03L570.5,514.11L571.0,514.19L571.5,514.27L572.0,514.34L572.5,514.42L573.0,514.50L573.5,514.58L574.0,514.65L574.5,514.73L575.0,514.80L575.5,514.87L576.0,514.95L576.5,515.02L577.0,515.09L577.5,515.16L578.0,515.23L578.5,515.30L579.0,515.37L579.5,515.44L580.0,515.51L580.5,515.58L581.0,515.64L581.5,515.71L582.0,515.78L582.5,515.84L583.0,515.91L583.5,515.97L584.0,516.03L584.5,516.10L585.0,516.16L585.5,516.22L586.0,516.28L586.5,516.34L587.0,516.40L587.5,516.46L588.0,516.52L588.5,516.58L589.0,516.64L589.5,516.70L590.0,516.76L590.5,516.81L591.0,516.87L591.5,516.93L592.0,516.98L592.5,517.04L593.0,517.09L593.5,517.15L594.0,517.20L594.5,517.26L595.0,517.31L595.5,517.36L596.0,517.41L596.5,517.47L597.0,517.52L597.5,517.57L598.0,517.62L598.5,517.67L599.0,517.72L599.5,517.77L600.0,517.82L600.5,517.87L601.0,517.91L601.5,517.96L602.0,518.01L602.5,518.06L603.0,518.10L603.5,518.15L604.0,518.20L604.5,518.24L605.0,518.29L605.5,518.33L606.0,518.38L606.5,518.42L607.0,518.47L607.5,518.51L608.0,518.55L608.5,518.60L609.0,518.64L609.5,518.68L610.0,518.72L610.5,518.77L611.0,518.81L611.5,518.85L612.0,518.89L612.5,518.93L613.0,518.97L613.5,519.01L614.0,519.05L614.5,519.09L615.0,519.13L615.5,519.17L616.0,519.21L616.5,519.25L617.0,519.28L617.5,519.32L618.0,519.36L618.5,519.40L619.0,519.43L619.5,519.47L620.0,519.51L620.5,519.54L621.0,519.58L621.5,519.61L622.0,519.65L622.5,519.69L623.0,519.72L623.5,519.75L624.0,519.79L624.5,519.82L625.0,519.86L625.5,519.89L626.0,519.93L626.5,519.96L627.0,519.99L627.5,520.02L628.0,520.06L628.5,520.09L629.0,520.12L629.5,520.15L630.0,520.19L630.5,520.22L631.0,520.25L631.5,520.28L632.0,520.31L632.5,520.34L633.0,520.37L633.5,520.40L634.0,520.43L634.5,520.46L635.0,520.49L635.5,520.52L636.0,520.55L636.5,520.58L637.0,520.61L637.5,520.64L638.0,520.67L638.5,520.69L639.0,520.72L639.5,520.75L640.0,520.78L640.5,520.81L641.0,520.83L641.5,520.86L642.0,520.89L642.5,520.92L643.0,520.94L643.5,520.97L644.0,521.00L644.5,521.02L645.0,521.05L645.5,521.07L646.0,521.10L646.5,521.13L647.0,521.15L647.5,521.18L648.0,521.20L648.5,521.23L649.0,521.25L649.5,521.28L650.0,521.30L650.5,521.32L651.0,521.35L651.5,521.37L652.0,521.40L652.5,521.42L653.0,521.44L653.5,521.47L654.0,521.49L654.5,521.51L655.0,521.54L655.5,521.56L656.0,521.58L656.5,521.61L657.0,521.63L657.5,521.65L658.0,521.67L658.5,521.70L659.0,521.72L659.5,521.74L660.0,521.76L660.5,521.78L661.0,521.80L661.5,521.83L662.0,521.85L662.5,521.87L663.0,521.89L663.5,521.91L664.0,521.93L664.5,521.95L665.0,521.97L665.5,521.99L666.0,522.01L666.5,522.03L667.0,522.05L667.5,522.07L668.0,522.09L668.5,522.11L669.0,522.13L669.5,522.15L670.0,522.17L670.5,522.19L671.0,522.21L671.5,522.23L672.0,522.25L672.5,522.27L673.0,522.28L673.5,522.30L674.0,522.32L674.5,522.34L675.0,522.36L675.5,522.38L676.0,522.39L676.5,522.41L677.0,522.43L677.5,522.45L678.0,522.47L678.5,522.48L679.0,522.50L679.5,522.52L680.0,522.53L680.5,522.55L681.0,522.57L681.5,522.59L682.0,522.60L682.5,522.62L683.0,522.64L683.5,522.65L684.0,522.67L684.5,522.69L685.0,522.70L685.5,522.72L686.0,522.74L686.5,522.75L687.0,522.77L687.5,522.78L688.0,522.80L688.5,522.81L689.0,522.83L689.5,522.85L690.0,522.86L690.5,522.88L691.0,522.89L691.5,522.91L692.0,522.92L692.5,522.94L693.0,522.95L693.5,522.97L694.0,522.98L694.5,523.00L695.0,523.01L695.5,523.03L696.0,523.04L696.5,523.06L697.0,523.07L697.5,523.08L698.0,523.10L698.5,523.11L699.0,523.13L699.5,523.14L700.0,523.15L700.5,523.17L701.0,523.18L701.5,523.20L702.0,523.21L702.5,523.22L703.0,523.24L703.5,523.25L704.0,523.26L704.5,523.28L705.0,523.29L705.5,523.30L706.0,523.32L706.5,523.33L707.0,523.34L707.5,523.36L708.0,523.37L708.5,523.38L709.0,523.39L709.5,523.41L710.0,523.42L710.5,523.43L711.0,523.44L711.5,523.46L712.0,523.47L712.5,523.48L713.0,523.49L713.5,523.51L714.0,523.52L714.5,523.53L715.0,523.54L715.5,523.55L716.0,523.57L716.5,523.58L717.0,523.59L717.5,523.60L718.0,523.61L718.5,523.62L719.0,523.64L719.5,523.65L720.0,523.66L720.5,523.67L721.0,523.68L721.5,523.69L722.0,523.70L722.5,523.72L723.0,523.73L723.5,523.74L724.0,523.75L724.5,523.76L725.0,523.77L725.5,523.78L726.0,523.79L726.5,523.80L727.0,523.81L727.5,523.82L728.0,523.84L728.5,523.85L729.0,523.86L729.5,523.87L730.0,523.88L730.5,523.89L731.0,523.90L731.5,523.91L732.0,523.92L732.5,523.93L733.0,523.94L733.5,523.95L734.0,523.96L734.5,523.97L735.0,523.98L735.5,523.99L736.0,524.00L736.5,524.01L737.0,524.02L737.5,524.03L738.0,524.04L738.5,524.05L739.0,524.06L739.5,524.07L740.0,524.08L740.5,524.08L741.0,524.09L741.5,524.10L742.0,524.11L742.5,524.12L743.0,524.13L743.5,524.14L744.0,524.15L744.5,524.16L745.0,524.17L745.5,524.18L746.0,524.19L746.5,524.19L747.0,524.20L747.5,524.21L748.0,524.22L748.5,524.23L749.0,524.24L749.5,524.25L750.0,524.26L750.5,524.26L751.0,524.27L751.5,524.28L752.0,524.29L752.5,524.30L753.0,524.31L753.5,524.32L754.0,524.32L754.5,524.33L755.0,524.34L755.5,524.35L756.0,524.36L756.5,524.37L757.0,524.37L757.5,524.38L758.0,524.39L758.5,524.40L759.0,524.41L759.5,524.41L760.0,524.42L760.5,524.43L761.0,524.44L761.5,524.45L762.0,524.45L762.5,524.46L763.0,524.47L763.5,524.48L764.0,524.48L764.5,524.49L765.0,524.50L765.5,524.51L766.0,524.51L766.5,524.52L767.0,524.53L767.5,524.54L768.0,524.54L768.5,524.55L769.0,524.56L769.5,524.57L770.0,524.57L770.5,524.58L771.0,524.59L771.5,524.60L772.0,524.60L772.5,524.61L773.0,524.62L773.5,524.62L774.0,524.63L774.5,524.64L775.0,524.65L775.5,524.65L776.0,524.66L776.5,524.67L777.0,524.67L777.5,524.68L778.0,524.69L778.5,524.69L779.0,524.70L779.5,524.71L780.0,524.71L780.5,524.72L781.0,524.73L781.5,524.73L782.0,524.74L782.5,524.75L783.0,524.75L783.5,524.76L784.0,524.77L784.5,524.77L785.0,524.78L785.5,524.79L786.0,524.79L786.5,524.80L787.0,524.81L787.5,524.81L788.0,524.82L788.5,524.82L789.0,524.83L789.5,524.84L790.0,524.84L790.5,524.85L791.0,524.86L791.5,524.86L792.0,524.87L792.5,524.87L793.0,524.88L793.5,524.89L794.0,524.89L794.5,524.90L795.0,524.90L795.5,524.91L796.0,524.92L796.5,524.92L797.0,524.93L797.5,524.93L798.0,524.94L798.5,524.95L799.0,524.95L799.5,524.96L800.0,524.96L800.5,524.97L801.0,524.97L801.5,524.98L802.0,524.99" fill="none" stroke="#555555" stroke-opacity="0.55" stroke-width="5.6" stroke-linejoin="round"/>
<path d="M132.0,523.67L132.5,523.66L133.0,523.65L133.5,523.64L134.0,523.63L134.5,523.62L135.0,523.61L135.5,523.60L136.0,523.58L136.5,523.57L137.0,523.56L137.5,523.55L138.0,523.54L138.5,523.53L139.0,523.52L139.5,523.51L140.0,523.50L140.5,523.48L141.0,523.47L141.5,523.46L142.0,523.45L142.5,523.44L143.0,523.43L143.5,523.41L144.0,523.40L144.5,523.39L145.0,523.38L145.5,523.37L146.0,523.35L146.5,523.34L147.0,523.33L147.5,523.32L148.0,523.31L148.5,523.29L149.0,523.28L149.5,523.27L150.0,523.26L150.5,523.24L151.0,523.23L151.5,523.22L152.0,523.21L152.5,523.19L153.0,523.18L153.5,523.17L154.0,523.15L154.5,523.14L155.0,523.13L155.5,523.12L156.0,523.10L156.5,523.09L157.0,523.08L157.5,523.06L158.0,523.05L158.5,523.03L159.0,523.02L159.5,523.01L160.0,522.99L160.5,522.98L161.0,522.97L161.5,522.95L162.0,522.94L162.5,522.92L163.0,522.91L163.5,522.90L164.0,522.88L164.5,522.87L165.0,522.85L165.5,522.84L166.0,522.82L166.5,522.81L167.0,522.79L167.5,522.78L168.0,522.76L168.5,522.75L169.0,522.73L169.5,522.72L170.0,522.70L170.5,522.69L171.0,522.67L171.5,522.66L172.0,522.64L172.5,522.63L173.0,522.61L173.5,522.60L174.0,522.58L174.5,522.56L175.0,522.55L175.5,522.53L176.0,522.52L176.5,522.50L177.0,522.48L177.5,522.47L178.0,522.45L178.5,522.43L179.0,522.42L179.5,522.40L180.0,522.38L180.5,522.37L181.0,522.35L181.5,522.33L182.0,522.32L182.5,522.30L183.0,522.28L183.5,522.26L184.0,522.25L184.5,522.23L185.0,522.21L185.5,522.19L186.0,522.17L186.5,522.16L187.0,522.14L187.5,522.12L188.0,522.10L188.5,522.08L189.0,522.06L189.5,522.05L190.0,522.03L190.5,522.01L191.0,521.99L191.5,521.97L192.0,521.95L192.5,521.93L193.0,521.91L193.5,521.89L194.0,521.87L194.5,521.85L195.0,521.83L195.5,521.81L196.0,521.79L196.5,521.77L197.0,521.75L197.5,521.73L198.0,521.71L198.5,521.69L199.0,521.67L199.5,521.65L200.0,521.63L200.5,521.61L201.0,521.59L201.5,521.57L202.0,521.55L202.5,521.52L203.0,521.50L203.5,521.48L204.0,521.46L204.5,521.44L205.0,521.41L205.5,521.39L206.0,521.37L206.5,521.35L207.0,521.32L207.5,521.30L208.0,521.28L208.5,521.26L209.0,521.23L209.5,521.21L210.0,521.19L210.5,521.16L211.0,521.14L211.5,521.11L212.0,521.09L212.5,521.07L213.0,521.04L213.5,521.02L214.0,520.99L214.5,520.97L215.0,520.94L215.5,520.92L216.0,520.89L216.5,520.87L217.0,520.84L217.5,520.82L218.0,520.79L218.5,520.77L219.0,520.74L219.5,520.71L220.0,520.69L220.5,520.66L221.0,520.63L221.5,520.61L222.0,520.58L222.5,520.55L223.0,520.52L223.5,520.50L224.0,520.47L224.5,520.44L225.0,520.41L225.5,520.39L226.0,520.36L226.5,520.33L227.0,520.30L227.5,520.27L228.0,520.24L228.5,520.21L229.0,520.18L229.5,520.15L230.0,520.12L230.5,520.09L231.0,520.06L231.5,520.03L232.0,520.00L232.5,519.97L233.0,519.94L233.5,519.91L234.0,519.88L234.5,519.84L235.0,519.81L235.5,519.78L236.0,519.75L236.5,519.72L237.0,519.68L237.5,519.65L238.0,519.62L238.5,519.58L239.0,519.55L239.5,519.52L240.0,519.48L240.5,519.45L241.0,519.41L241.5,519.38L242.0,519.34L242.5,519.31L243.0,519.27L243.5,519.24L244.0,519.20L244.5,519.17L245.0,519.13L245.5,519.09L246.0,519.06L246.5,519.02L247.0,518.98L247.5,518.94L248.0,518.91L248.5,518.87L249.0,518.83L249.5,518.79L250.0,518.75L250.5,518.71L251.0,518.67L251.5,518.63L252.0,518.59L252.5,518.55L253.0,518.51L253.5,518.47L254.0,518.43L254.5,518.39L255.0,518.35L255.5,518.31L256.0,518.26L256.5,518.22L257.0,518.18L257.5,518.13L258.0,518.09L258.5,518.05L259.0,518.00L259.5,517.96L260.0,517.91L260.5,517.87L261.0,517.82L261.5,517.78L262.0,517.73L262.5,517.68L263.0,517.64L263.5,517.59L264.0,517.54L264.5,517.50L265.0,517.45L265.5,517.40L266.0,517.35L266.5,517.30L267.0,517.25L267.5,517.20L268.0,517.15L268.5,517.10L269.0,517.05L269.5,517.00L270.0,516.94L270.5,516.89L271.0,516.84L271.5,516.79L272.0,516.73L272.5,516.68L273.0,516.62L273.5,516.57L274.0,516.51L274.5,516.46L275.0,516.40L275.5,516.35L276.0,516.29L276.5,516.23L277.0,516.17L277.5,516.12L278.0,516.06L278.5,516.00L279.0,515.94L279.5,515.88L280.0,515.82L280.5,515.76L281.0,515.69L281.5,515.63L282.0,515.57L282.5,515.51L283.0,515.44L283.5,515.38L284.0,515.31L284.5,515.25L285.0,515.18L285.5,515.12L286.0,515.05L286.5,514.98L287.0,514.91L287.5,514.85L288.0,514.78L288.5,514.71L289.0,514.64L289.5,514.57L290.0,514.49L290.5,514.42L291.0,514.35L291.5,514.28L292.0,514.20L292.5,514.13L293.0,514.05L293.5,513.98L294.0,513.90L294.5,513.82L295.0,513.75L295.5,513.67L296.0,513.59L296.5,513.51L297.0,513.43L297.5,513.35L298.0,513.27L298.5,513.18L299.0,513.10L299.5,513.02L300.0,512.93L300.5,512.84L301.0,512.76L301.5,512.67L302.0,512.58L302.5,512.49L303.0,512.41L303.5,512.31L304.0,512.22L304.5,512.13L305.0,512.04L305.5,511.95L306.0,511.85L306.5,511.76L307.0,511.66L307.5,511.56L308.0,511.46L308.5,511.36L309.0,511.26L309.5,511.16L310.0,511.06L310.5,510.96L311.0,510.86L311.5,510.75L312.0,510.64L312.5,510.54L313.0,510.43L313.5,510.32L314.0,510.21L314.5,510.10L315.0,509.99L315.5,509.88L316.0,509.76L316.5,509.65L317.0,509.53L317.5,509.41L318.0,509.29L318.5,509.17L319.0,509.05L319.5,508.93L320.0,508.81L320.5,508.68L321.0,508.56L321.5,508.43L322.0,508.30L322.5,508.17L323.0,508.04L323.5,507.91L324.0,507.77L324.5,507.64L325.0,507.50L325.5,507.36L326.0,507.22L326.5,507.08L327.0,506.94L327.5,506.79L328.0,506.65L328.5,506.50L329.0,506.35L329.5,506.20L330.0,506.05L330.5,505.90L331.0,505.74L331.5,505.58L332.0,505.43L332.5,505.27L333.0,505.10L333.5,504.94L334.0,504.77L334.5,504.61L335.0,504.44L335.5,504.27L336.0,504.09L336.5,503.92L337.0,503.74L337.5,503.56L338.0,503.38L338.5,503.20L339.0,503.01L339.5,502.83L340.0,502.64L340.5,502.45L341.0,502.25L341.5,502.06L342.0,501.86L342.5,501.66L343.0,501.45L343.5,501.25L344.0,501.04L344.5,500.83L345.0,500.62L345.5,500.40L346.0,500.19L346.5,499.97L347.0,499.74L347.5,499.52L348.0,499.29L348.5,499.06L349.0,498.82L349.5,498.59L350.0,498.35L350.5,498.10L351.0,497.86L351.5,497.61L352.0,497.36L352.5,497.10L353.0,496.84L353.5,496.58L354.0,496.32L354.5,496.05L355.0,495.78L355.5,495.50L356.0,495.22L356.5,494.94L357.0,494.65L357.5,494.36L358.0,494.07L358.5,493.77L359.0,493.47L359.5,493.17L360.0,492.86L360.5,492.54L361.0,492.22L361.5,491.90L362.0,491.58L362.5,491.25L363.0,490.91L363.5,490.57L364.0,490.23L364.5,489.88L365.0,489.52L365.5,489.16L366.0,488.80L366.5,488.43L367.0,488.05L367.5,487.67L368.0,487.29L368.5,486.90L369.0,486.50L369.5,486.10L370.0,485.69L370.5,485.28L371.0,484.86L371.5,484.43L372.0,484.00L372.5,483.56L373.0,483.12L373.5,482.67L374.0,482.21L374.5,481.74L375.0,481.27L375.5,480.79L376.0,480.31L376.5,479.81L377.0,479.31L377.5,478.80L378.0,478.28L378.5,477.76L379.0,477.22L379.5,476.68L380.0,476.13L380.5,475.57L381.0,475.01L381.5,474.43L382.0,473.84L382.5,473.25L383.0,472.64L383.5,472.03L384.0,471.40L384.5,470.77L385.0,470.12L385.5,469.47L386.0,468.80L386.5,468.12L387.0,467.43L387.5,466.73L388.0,466.02L388.5,465.29L389.0,464.56L389.5,463.81L390.0,463.04L390.5,462.27L391.0,461.48L391.5,460.67L392.0,459.86L392.5,459.03L393.0,458.18L393.5,457.32L394.0,456.44L394.5,455.55L395.0,454.64L395.5,453.72L396.0,452.78L396.5,451.82L397.0,450.84L397.5,449.85L398.0,448.84L398.5,447.81L399.0,446.76L399.5,445.69L400.0,444.60L400.5,443.49L401.0,442.36L401.5,441.21L402.0,440.03L402.5,438.83L403.0,437.61L403.5,436.37L404.0,435.10L404.5,433.81L405.0,432.50L405.5,431.15L406.0,429.78L406.5,428.39L407.0,426.96L407.5,425.51L408.0,424.03L408.5,422.52L409.0,420.98L409.5,419.40L410.0,417.80L410.5,416.16L411.0,414.49L411.5,412.79L412.0,411.05L412.5,409.27L413.0,407.46L413.5,405.61L414.0,403.72L414.5,401.79L415.0,399.83L415.5,397.82L416.0,395.77L416.5,393.67L417.0,391.54L417.5,389.35L418.0,387.12L418.5,384.85L419.0,382.52L419.5,380.15L420.0,377.72L420.5,375.25L421.0,372.72L421.5,370.13L422.0,367.50L422.5,364.80L423.0,362.05L423.5,359.24L424.0,356.37L424.5,353.44L425.0,350.45L425.5,347.39L426.0,344.27L426.5,341.09L427.0,337.83L427.5,334.51L428.0,331.12L428.5,327.67L429.0,324.13L429.5,320.53L430.0,316.86L430.5,313.10L431.0,309.28L431.5,305.38L432.0,301.40L432.5,297.35L433.0,293.21L433.5,289.00L434.0,284.71L434.5,280.34L435.0,275.90L435.5,271.37L436.0,266.76L436.5,262.08L437.0,257.32L437.5,252.48L438.0,247.57L438.5,242.58L439.0,237.51L439.5,232.38L440.0,227.18L440.5,221.91L441.0,216.57L441.5,211.18L442.0,205.73L442.5,200.22L443.0,194.66L443.5,189.06L444.0,183.42L444.5,177.75L445.0,172.04L445.5,166.32L446.0,160.58L446.5,154.83L447.0,149.09L447.5,143.35L448.0,137.64L448.5,131.95L449.0,126.30L449.5,120.70L450.0,115.16L450.5,109.69L451.0,104.30L451.5,99.01L452.0,93.83L452.5,88.77L453.0,83.84L453.5,79.06L454.0,74.43L454.5,69.98L455.0,65.72L455.5,61.65L456.0,57.80L456.5,54.17L457.0,50.78L457.5,47.63L458.0,44.74L458.5,42.12L459.0,39.78L459.5,37.72L460.0,35.96L460.5,34.49L461.0,33.33L461.5,32.48L462.0,31.95L462.5,31.73L463.0,31.82L463.5,32.23L464.0,32.96L464.5,33.99L465.0,35.33L465.5,36.98L466.0,38.92L466.5,41.15L467.0,43.66L467.5,46.44L468.0,49.49L468.5,52.78L469.0,56.32L469.5,60.09L470.0,64.07L470.5,68.25L471.0,72.63L471.5,77.19L472.0,81.91L472.5,86.78L473.0,91.79L473.5,96.93L474.0,102.17L474.5,107.52L475.0,112.96L475.5,118.47L476.0,124.05L476.5,129.68L477.0,135.36L477.5,141.06L478.0,146.79L478.5,152.53L479.0,158.28L479.5,164.02L480.0,169.76L480.5,175.47L481.0,181.15L481.5,186.81L482.0,192.43L482.5,198.00L483.0,203.53L483.5,209.00L484.0,214.42L484.5,219.78L485.0,225.08L485.5,230.31L486.0,235.47L486.5,240.56L487.0,245.58L487.5,250.52L488.0,255.39L488.5,260.18L489.0,264.90L489.5,269.54L490.0,274.09L490.5,278.57L491.0,282.97L491.5,287.30L492.0,291.54L492.5,295.70L493.0,299.79L493.5,303.80L494.0,307.73L494.5,311.58L495.0,315.36L495.5,319.07L496.0,322.70L496.5,326.26L497.0,329.75L497.5,333.17L498.0,336.51L498.5,339.79L499.0,343.01L499.5,346.15L500.0,349.23L500.5,352.25L501.0,355.21L501.5,358.10L502.0,360.93L502.5,363.71L503.0,366.43L503.5,369.09L504.0,371.69L504.5,374.24L505.0,376.74L505.5,379.18L506.0,381.58L506.5,383.92L507.0,386.22L507.5,388.47L508.0,390.67L508.5,392.82L509.0,394.94L509.5,397.00L510.0,399.03L510.5,401.01L511.0,402.96L511.5,404.86L512.0,406.72L512.5,408.55L513.0,410.34L513.5,412.10L514.0,413.81L514.5,415.50L515.0,417.15L515.5,418.77L516.0,420.35L516.5,421.90L517.0,423.43L517.5,424.92L518.0,426.38L518.5,427.82L519.0,429.23L519.5,430.61L520.0,431.96L520.5,433.29L521.0,434.59L521.5,435.87L522.0,437.12L522.5,438.35L523.0,439.56L523.5,440.74L524.0,441.90L524.5,443.04L525.0,444.16L525.5,445.25L526.0,446.33L526.5,447.39L527.0,448.43L527.5,449.45L528.0,450.45L528.5,451.43L529.0,452.40L529.5,453.34L530.0,454.27L530.5,455.19L531.0,456.09L531.5,456.97L532.0,457.84L532.5,458.69L533.0,459.53L533.5,460.35L534.0,461.16L534.5,461.95L535.0,462.73L535.5,463.50L536.0,464.26L536.5,465.00L537.0,465.73L537.5,466.45L538.0,467.15L538.5,467.85L539.0,468.53L539.5,469.20L540.0,469.86L540.5,470.51L541.0,471.15L541.5,471.78L542.0,472.40L542.5,473.01L543.0,473.61L543.5,474.20L544.0,474.78L544.5,475.35L545.0,475.91L545.5,476.46L546.0,477.01L546.5,477.55L547.0,478.07L547.5,478.59L548.0,479.11L548.5,479.61L549.0,480.11L549.5,480.60L550.0,481.08L550.5,481.56L551.0,482.02L551.5,482.48L552.0,482.94L552.5,483.39L553.0,483.83L553.5,484.26L554.0,484.69L554.5,485.11L555.0,485.53L555.5,485.94L556.0,486.34L556.5,486.74L557.0,487.13L557.5,487.52L558.0,487.90L558.5,488.28L559.0,488.65L559.5,489.02L560.0,489.38L560.5,489.73L561.0,490.09L561.5,490.43L562.0,490.77L562.5,491.11L563.0,491.44L563.5,491.77L564.0,492.10L564.5,492.42L565.0,492.73L565.5,493.04L566.0,493.35L566.5,493.65L567.0,493.95L567.5,494.25L568.0,494.54L568.5,494.83L569.0,495.11L569.5,495.39L570.0,495.67L570.5,495.94L571.0,496.21L571.5,496.48L572.0,496.74L572.5,497.00L573.0,497.25L573.5,497.51L574.0,497.76L574.5,498.01L575.0,498.25L575.5,498.49L576.0,498.73L576.5,498.96L577.0,499.20L577.5,499.43L578.0,499.65L578.5,499.88L579.0,500.10L579.5,500.32L580.0,500.53L580.5,500.75L581.0,500.96L581.5,501.17L582.0,501.37L582.5,501.58L583.0,501.78L583.5,501.98L584.0,502.17L584.5,502.37L585.0,502.56L585.5,502.75L586.0,502.94L586.5,503.12L587.0,503.31L587.5,503.49L588.0,503.67L588.5,503.85L589.0,504.02L589.5,504.20L590.0,504.37L590.5,504.54L591.0,504.71L591.5,504.87L592.0,505.04L592.5,505.20L593.0,505.36L593.5,505.52L594.0,505.68L594.5,505.83L595.0,505.99L595.5,506.14L596.0,506.29L596.5,506.44L597.0,506.59L597.5,506.74L598.0,506.88L598.5,507.02L599.0,507.17L599.5,507.31L600.0,507.44L600.5,507.58L601.0,507.72L601.5,507.85L602.0,507.99L602.5,508.12L603.0,508.25L603.5,508.38L604.0,508.50L604.5,508.63L605.0,508.76L605.5,508.88L606.0,509.00L606.5,509.12L607.0,509.25L607.5,509.36L608.0,509.48L608.5,509.60L609.0,509.72L609.5,509.83L610.0,509.94L610.5,510.06L611.0,510.17L611.5,510.28L612.0,510.39L612.5,510.50L613.0,510.60L613.5,510.71L614.0,510.81L614.5,510.92L615.0,511.02L615.5,511.12L616.0,511.22L616.5,511.32L617.0,511.42L617.5,511.52L618.0,511.62L618.5,511.72L619.0,511.81L619.5,511.91L620.0,512.00L620.5,512.09L621.0,512.19L621.5,512.28L622.0,512.37L622.5,512.46L623.0,512.55L623.5,512.64L624.0,512.72L624.5,512.81L625.0,512.90L625.5,512.98L626.0,513.07L626.5,513.15L627.0,513.23L627.5,513.31L628.0,513.40L628.5,513.48L629.0,513.56L629.5,513.64L630.0,513.72L630.5,513.79L631.0,513.87L631.5,513.95L632.0,514.02L632.5,514.10L633.0,514.17L633.5,514.25L634.0,514.32L634.5,514.39L635.0,514.47L635.5,514.54L636.0,514.61L636.5,514.68L637.0,514.75L637.5,514.82L638.0,514.89L638.5,514.96L639.0,515.02L639.5,515.09L640.0,515.16L640.5,515.22L641.0,515.29L641.5,515.35L642.0,515.42L642.5,515.48L643.0,515.54L643.5,515.61L644.0,515.67L644.5,515.73L645.0,515.79L645.5,515.85L646.0,515.91L646.5,515.97L647.0,516.03L647.5,516.09L648.0,516.15L648.5,516.21L649.0,516.27L649.5,516.32L650.0,516.38L650.5,516.44L651.0,516.49L651.5,516.55L652.0,516.60L652.5,516.66L653.0,516.71L653.5,516.77L654.0,516.82L654.5,516.87L655.0,516.92L655.5,516.98L656.0,517.03L656.5,517.08L657.0,517.13L657.5,517.18L658.0,517.23L658.5,517.28L659.0,517.33L659.5,517.38L660.0,517.43L660.5,517.48L661.0,517.52L661.5,517.57L662.0,517.62L662.5,517.67L663.0,517.71L663.5,517.76L664.0,517.80L664.5,517.85L665.0,517.90L665.5,517.94L666.0,517.99L666.5,518.03L667.0,518.07L667.5,518.12L668.0,518.16L668.5,518.20L669.0,518.25L669.5,518.29L670.0,518.33L670.5,518.37L671.0,518.41L671.5,518.46L672.0,518.50L672.5,518.54L673.0,518.58L673.5,518.62L674.0,518.66L674.5,518.70L675.0,518.74L675.5,518.78L676.0,518.81L676.5,518.85L677.0,518.89L677.5,518.93L678.0,518.97L678.5,519.00L679.0,519.04L679.5,519.08L680.0,519.12L680.5,519.15L681.0,519.19L681.5,519.22L682.0,519.26L682.5,519.29L683.0,519.33L683.5,519.37L684.0,519.40L684.5,519.43L685.0,519.47L685.5,519.50L686.0,519.54L686.5,519.57L687.0,519.60L687.5,519.64L688.0,519.67L688.5,519.70L689.0,519.74L689.5,519.77L690.0,519.80L690.5,519.83L691.0,519.86L691.5,519.90L692.0,519.93L692.5,519.96L693.0,519.99L693.5,520.02L694.0,520.05L694.5,520.08L695.0,520.11L695.5,520.14L696.0,520.17L696.5,520.20L697.0,520.23L697.5,520.26L698.0,520.29L698.5,520.32L699.0,520.35L699.5,520.37L700.0,520.40L700.5,520.43L701.0,520.46L701.5,520.49L702.0,520.51L702.5,520.54L703.0,520.57L703.5,520.60L704.0,520.62L704.5,520.65L705.0,520.68L705.5,520.70L706.0,520.73L706.5,520.75L707.0,520.78L707.5,520.81L708.0,520.83L708.5,520.86L709.0,520.88L709.5,520.91L710.0,520.93L710.5,520.96L711.0,520.98L711.5,521.01L712.0,521.03L712.5,521.06L713.0,521.08L713.5,521.11L714.0,521.13L714.5,521.15L715.0,521.18L715.5,521.20L716.0,521.22L716.5,521.25L717.0,521.27L717.5,521.29L718.0,521.32L718.5,521.34L719.0,521.36L719.5,521.38L720.0,521.41L720.5,521.43L721.0,521.45L721.5,521.47L722.0,521.49L722.5,521.52L723.0,521.54L723.5,521.56L724.0,521.58L724.5,521.60L725.0,521.62L725.5,521.64L726.0,521.66L726.5,521.68L727.0,521.70L727.5,521.73L728.0,521.75L728.5,521.77L729.0,521.79L729.5,521.81L730.0,521.83L730.5,521.85L731.0,521.87L731.5,521.89L732.0,521.90L732.5,521.92L733.0,521.94L733.5,521.96L734.0,521.98L734.5,522.00L735.0,522.02L735.5,522.04L736.0,522.06L736.5,522.08L737.0,522.09L737.5,522.11L738.0,522.13L738.5,522.15L739.0,522.17L739.5,522.18L740.0,522.20L740.5,522.22L741.0,522.24L741.5,522.26L742.0,522.27L742.5,522.29L743.0,522.31L743.5,522.33L744.0,522.34L744.5,522.36L745.0,522.38L745.5,522.39L746.0,522.41L746.5,522.43L747.0,522.44L747.5,522.46L748.0,522.48L748.5,522.49L749.0,522.51L749.5,522.53L750.0,522.54L750.5,522.56L751.0,522.57L751.5,522.59L752.0,522.60L752.5,522.62L753.0,522.64L753.5,522.65L754.0,522.67L754.5,522.68L755.0,522.70L755.5,522.71L756.0,522.73L756.5,522.74L757.0,522.76L757.5,522.77L758.0,522.79L758.5,522.80L759.0,522.82L759.5,522.83L760.0,522.85L760.5,522.86L761.0,522.88L761.5,522.89L762.0,522.90L762.5,522.92L763.0,522.93L763.5,522.95L764.0,522.96L764.5,522.97L765.0,522.99L765.5,523.00L766.0,523.02L766.5,523.03L767.0,523.04L767.5,523.06L768.0,523.07L768.5,523.08L769.0,523.10L769.5,523.11L770.0,523.12L770.5,523.14L771.0,523.15L771.5,523.16L772.0,523.18L772.5,523.19L773.0,523.20L773.5,523.21L774.0,523.23L774.5,523.24L775.0,523.25L775.5,523.26L776.0,523.28L776.5,523.29L777.0,523.30L777.5,523.31L778.0,523.33L778.5,523.34L779.0,523.35L779.5,523.36L780.0,523.37L780.5,523.39L781.0,523.40L781.5,523.41L782.0,523.42L782.5,523.43L783.0,523.44L783.5,523.46L784.0,523.47L784.5,523.48L785.0,523.49L785.5,523.50L786.0,523.51L786.5,523.52L787.0,523.54L787.5,523.55L788.0,523.56L788.5,523.57L789.0,523.58L789.5,523.59L790.0,523.60L790.5,523.61L791.0,523.62L791.5,523.63L792.0,523.65L792.5,523.66L793.0,523.67L793.5,523.68L794.0,523.69L794.5,523.70L795.0,523.71L795.5,523.72L796.0,523.73L796.5,523.74L797.0,523.75L797.5,523.76L798.0,523.77L798.5,523.78L799.0,523.79L799.5,523.80L800.0,523.81L800.5,523.82L801.0,523.83L801.5,523.84L802.0,523.85" fill="none" stroke="#ff3030" stroke-opacity="0.62" stroke-width="5.6" stroke-linejoin="round"/>
<path d="M132.0,525.13L132.5,525.12L133.0,525.12L133.5,525.11L134.0,525.11L134.5,525.10L135.0,525.10L135.5,525.09L136.0,525.09L136.5,525.08L137.0,525.08L137.5,525.07L138.0,525.06L138.5,525.06L139.0,525.05L139.5,525.05L140.0,525.04L140.5,525.04L141.0,525.03L141.5,525.02L142.0,525.02L142.5,525.01L143.0,525.01L143.5,525.00L144.0,525.00L144.5,524.99L145.0,524.98L145.5,524.98L146.0,524.97L146.5,524.97L147.0,524.96L147.5,524.95L148.0,524.95L148.5,524.94L149.0,524.94L149.5,524.93L150.0,524.92L150.5,524.92L151.0,524.91L151.5,524.90L152.0,524.90L152.5,524.89L153.0,524.89L153.5,524.88L154.0,524.87L154.5,524.87L155.0,524.86L155.5,524.85L156.0,524.85L156.5,524.84L157.0,524.83L157.5,524.83L158.0,524.82L158.5,524.82L159.0,524.81L159.5,524.80L160.0,524.80L160.5,524.79L161.0,524.78L161.5,524.78L162.0,524.77L162.5,524.76L163.0,524.75L163.5,524.75L164.0,524.74L164.5,524.73L165.0,524.73L165.5,524.72L166.0,524.71L166.5,524.71L167.0,524.70L167.5,524.69L168.0,524.69L168.5,524.68L169.0,524.67L169.5,524.66L170.0,524.66L170.5,524.65L171.0,524.64L171.5,524.63L172.0,524.63L172.5,524.62L173.0,524.61L173.5,524.60L174.0,524.60L174.5,524.59L175.0,524.58L175.5,524.57L176.0,524.57L176.5,524.56L177.0,524.55L177.5,524.54L178.0,524.54L178.5,524.53L179.0,524.52L179.5,524.51L180.0,524.50L180.5,524.50L181.0,524.49L181.5,524.48L182.0,524.47L182.5,524.46L183.0,524.46L183.5,524.45L184.0,524.44L184.5,524.43L185.0,524.42L185.5,524.42L186.0,524.41L186.5,524.40L187.0,524.39L187.5,524.38L188.0,524.37L188.5,524.36L189.0,524.36L189.5,524.35L190.0,524.34L190.5,524.33L191.0,524.32L191.5,524.31L192.0,524.30L192.5,524.30L193.0,524.29L193.5,524.28L194.0,524.27L194.5,524.26L195.0,524.25L195.5,524.24L196.0,524.23L196.5,524.22L197.0,524.21L197.5,524.20L198.0,524.20L198.5,524.19L199.0,524.18L199.5,524.17L200.0,524.16L200.5,524.15L201.0,524.14L201.5,524.13L202.0,524.12L202.5,524.11L203.0,524.10L203.5,524.09L204.0,524.08L204.5,524.07L205.0,524.06L205.5,524.05L206.0,524.04L206.5,524.03L207.0,524.02L207.5,524.01L208.0,524.00L208.5,523.99L209.0,523.98L209.5,523.97L210.0,523.96L210.5,523.95L211.0,523.94L211.5,523.93L212.0,523.92L212.5,523.91L213.0,523.90L213.5,523.88L214.0,523.87L214.5,523.86L215.0,523.85L215.5,523.84L216.0,523.83L216.5,523.82L217.0,523.81L217.5,523.80L218.0,523.79L218.5,523.77L219.0,523.76L219.5,523.75L220.0,523.74L220.5,523.73L221.0,523.72L221.5,523.71L222.0,523.69L222.5,523.68L223.0,523.67L223.5,523.66L224.0,523.65L224.5,523.63L225.0,523.62L225.5,523.61L226.0,523.60L226.5,523.59L227.0,523.57L227.5,523.56L228.0,523.55L228.5,523.54L229.0,523.52L229.5,523.51L230.0,523.50L230.5,523.48L231.0,523.47L231.5,523.46L232.0,523.45L232.5,523.43L233.0,523.42L233.5,523.41L234.0,523.39L234.5,523.38L235.0,523.37L235.5,523.35L236.0,523.34L236.5,523.33L237.0,523.31L237.5,523.30L238.0,523.29L238.5,523.27L239.0,523.26L239.5,523.24L240.0,523.23L240.5,523.22L241.0,523.20L241.5,523.19L242.0,523.17L242.5,523.16L243.0,523.14L243.5,523.13L244.0,523.11L244.5,523.10L245.0,523.08L245.5,523.07L246.0,523.05L246.5,523.04L247.0,523.02L247.5,523.01L248.0,522.99L248.5,522.98L249.0,522.96L249.5,522.95L250.0,522.93L250.5,522.92L251.0,522.90L251.5,522.88L252.0,522.87L252.5,522.85L253.0,522.83L253.5,522.82L254.0,522.80L254.5,522.79L255.0,522.77L255.5,522.75L256.0,522.74L256.5,522.72L257.0,522.70L257.5,522.68L258.0,522.67L258.5,522.65L259.0,522.63L259.5,522.62L260.0,522.60L260.5,522.58L261.0,522.56L261.5,522.54L262.0,522.53L262.5,522.51L263.0,522.49L263.5,522.47L264.0,522.45L264.5,522.44L265.0,522.42L265.5,522.40L266.0,522.38L266.5,522.36L267.0,522.34L267.5,522.32L268.0,522.30L268.5,522.28L269.0,522.26L269.5,522.24L270.0,522.22L270.5,522.20L271.0,522.18L271.5,522.16L272.0,522.14L272.5,522.12L273.0,522.10L273.5,522.08L274.0,522.06L274.5,522.04L275.0,522.02L275.5,522.00L276.0,521.98L276.5,521.96L277.0,521.93L277.5,521.91L278.0,521.89L278.5,521.87L279.0,521.85L279.5,521.83L280.0,521.80L280.5,521.78L281.0,521.76L281.5,521.74L282.0,521.71L282.5,521.69L283.0,521.67L283.5,521.64L284.0,521.62L284.5,521.60L285.0,521.57L285.5,521.55L286.0,521.52L286.5,521.50L287.0,521.48L287.5,521.45L288.0,521.43L288.5,521.40L289.0,521.38L289.5,521.35L290.0,521.33L290.5,521.30L291.0,521.28L291.5,521.25L292.0,521.22L292.5,521.20L293.0,521.17L293.5,521.15L294.0,521.12L294.5,521.09L295.0,521.06L295.5,521.04L296.0,521.01L296.5,520.98L297.0,520.95L297.5,520.93L298.0,520.90L298.5,520.87L299.0,520.84L299.5,520.81L300.0,520.78L300.5,520.76L301.0,520.73L301.5,520.70L302.0,520.67L302.5,520.64L303.0,520.61L303.5,520.58L304.0,520.55L304.5,520.52L305.0,520.49L305.5,520.45L306.0,520.42L306.5,520.39L307.0,520.36L307.5,520.33L308.0,520.30L308.5,520.26L309.0,520.23L309.5,520.20L310.0,520.16L310.5,520.13L311.0,520.10L311.5,520.06L312.0,520.03L312.5,520.00L313.0,519.96L313.5,519.93L314.0,519.89L314.5,519.86L315.0,519.82L315.5,519.78L316.0,519.75L316.5,519.71L317.0,519.68L317.5,519.64L318.0,519.60L318.5,519.56L319.0,519.53L319.5,519.49L320.0,519.45L320.5,519.41L321.0,519.37L321.5,519.33L322.0,519.29L322.5,519.25L323.0,519.21L323.5,519.17L324.0,519.13L324.5,519.09L325.0,519.05L325.5,519.01L326.0,518.97L326.5,518.93L327.0,518.88L327.5,518.84L328.0,518.80L328.5,518.75L329.0,518.71L329.5,518.67L330.0,518.62L330.5,518.58L331.0,518.53L331.5,518.49L332.0,518.44L332.5,518.39L333.0,518.35L333.5,518.30L334.0,518.25L334.5,518.21L335.0,518.16L335.5,518.11L336.0,518.06L336.5,518.01L337.0,517.96L337.5,517.91L338.0,517.86L338.5,517.81L339.0,517.76L339.5,517.71L340.0,517.65L340.5,517.60L341.0,517.55L341.5,517.50L342.0,517.44L342.5,517.39L343.0,517.33L343.5,517.28L344.0,517.22L344.5,517.17L345.0,517.11L345.5,517.05L346.0,516.99L346.5,516.94L347.0,516.88L347.5,516.82L348.0,516.76L348.5,516.70L349.0,516.64L349.5,516.58L350.0,516.52L350.5,516.45L351.0,516.39L351.5,516.33L352.0,516.26L352.5,516.20L353.0,516.13L353.5,516.07L354.0,516.00L354.5,515.94L355.0,515.87L355.5,515.80L356.0,515.73L356.5,515.66L357.0,515.59L357.5,515.52L358.0,515.45L358.5,515.38L359.0,515.31L359.5,515.24L360.0,515.16L360.5,515.09L361.0,515.01L361.5,514.94L362.0,514.86L362.5,514.78L363.0,514.71L363.5,514.63L364.0,514.55L364.5,514.47L365.0,514.39L365.5,514.31L366.0,514.22L366.5,514.14L367.0,514.06L367.5,513.97L368.0,513.89L368.5,513.80L369.0,513.71L369.5,513.63L370.0,513.54L370.5,513.45L371.0,513.36L371.5,513.26L372.0,513.17L372.5,513.08L373.0,512.99L373.5,512.89L374.0,512.79L374.5,512.70L375.0,512.60L375.5,512.50L376.0,512.40L376.5,512.30L377.0,512.20L377.5,512.09L378.0,511.99L378.5,511.88L379.0,511.78L379.5,511.67L380.0,511.56L380.5,511.45L381.0,511.34L381.5,511.23L382.0,511.12L382.5,511.00L383.0,510.89L383.5,510.77L384.0,510.65L384.5,510.53L385.0,510.41L385.5,510.29L386.0,510.17L386.5,510.04L387.0,509.92L387.5,509.79L388.0,509.66L388.5,509.53L389.0,509.40L389.5,509.27L390.0,509.14L390.5,509.00L391.0,508.86L391.5,508.72L392.0,508.58L392.5,508.44L393.0,508.30L393.5,508.15L394.0,508.01L394.5,507.86L395.0,507.71L395.5,507.56L396.0,507.40L396.5,507.25L397.0,507.09L397.5,506.93L398.0,506.77L398.5,506.61L399.0,506.44L399.5,506.27L400.0,506.11L400.5,505.94L401.0,505.76L401.5,505.59L402.0,505.41L402.5,505.23L403.0,505.05L403.5,504.87L404.0,504.68L404.5,504.49L405.0,504.30L405.5,504.11L406.0,503.91L406.5,503.72L407.0,503.52L407.5,503.31L408.0,503.11L408.5,502.90L409.0,502.69L409.5,502.48L410.0,502.26L410.5,502.04L411.0,501.82L411.5,501.60L412.0,501.37L412.5,501.14L413.0,500.91L413.5,500.67L414.0,500.43L414.5,500.19L415.0,499.94L415.5,499.69L416.0,499.44L416.5,499.19L417.0,498.93L417.5,498.66L418.0,498.40L418.5,498.13L419.0,497.85L419.5,497.58L420.0,497.29L420.5,497.01L421.0,496.72L421.5,496.42L422.0,496.13L422.5,495.82L423.0,495.52L423.5,495.21L424.0,494.89L424.5,494.57L425.0,494.25L425.5,493.92L426.0,493.59L426.5,493.25L427.0,492.90L427.5,492.55L428.0,492.20L428.5,491.84L429.0,491.48L429.5,491.10L430.0,490.73L430.5,490.35L431.0,489.96L431.5,489.57L432.0,489.17L432.5,488.76L433.0,488.35L433.5,487.93L434.0,487.50L434.5,487.07L435.0,486.63L435.5,486.19L436.0,485.73L436.5,485.27L437.0,484.81L437.5,484.33L438.0,483.85L438.5,483.36L439.0,482.86L439.5,482.35L440.0,481.84L440.5,481.31L441.0,480.78L441.5,480.24L442.0,479.68L442.5,479.12L443.0,478.55L443.5,477.97L444.0,477.38L444.5,476.78L445.0,476.17L445.5,475.55L446.0,474.92L446.5,474.28L447.0,473.62L447.5,472.95L448.0,472.28L448.5,471.59L449.0,470.88L449.5,470.17L450.0,469.44L450.5,468.69L451.0,467.94L451.5,467.17L452.0,466.38L452.5,465.59L453.0,464.77L453.5,463.94L454.0,463.10L454.5,462.24L455.0,461.36L455.5,460.46L456.0,459.55L456.5,458.62L457.0,457.67L457.5,456.71L458.0,455.72L458.5,454.72L459.0,453.69L459.5,452.65L460.0,451.58L460.5,450.49L461.0,449.39L461.5,448.25L462.0,447.10L462.5,445.92L463.0,444.72L463.5,443.49L464.0,442.24L464.5,440.96L465.0,439.65L465.5,438.32L466.0,436.95L466.5,435.56L467.0,434.14L467.5,432.69L468.0,431.21L468.5,429.70L469.0,428.15L469.5,426.57L470.0,424.96L470.5,423.31L471.0,421.62L471.5,419.90L472.0,418.14L472.5,416.34L473.0,414.50L473.5,412.62L474.0,410.69L474.5,408.73L475.0,406.72L475.5,404.66L476.0,402.56L476.5,400.41L477.0,398.21L477.5,395.97L478.0,393.67L478.5,391.32L479.0,388.91L479.5,386.45L480.0,383.94L480.5,381.37L481.0,378.74L481.5,376.05L482.0,373.29L482.5,370.48L483.0,367.60L483.5,364.66L484.0,361.65L484.5,358.57L485.0,355.42L485.5,352.21L486.0,348.92L486.5,345.56L487.0,342.12L487.5,338.61L488.0,335.02L488.5,331.36L489.0,327.62L489.5,323.79L490.0,319.89L490.5,315.91L491.0,311.85L491.5,307.70L492.0,303.47L492.5,299.16L493.0,294.77L493.5,290.29L494.0,285.74L494.5,281.10L495.0,276.38L495.5,271.58L496.0,266.71L496.5,261.75L497.0,256.73L497.5,251.63L498.0,246.46L498.5,241.23L499.0,235.94L499.5,230.58L500.0,225.18L500.5,219.72L501.0,214.22L501.5,208.69L502.0,203.12L502.5,197.54L503.0,191.93L503.5,186.32L504.0,180.72L504.5,175.12L505.0,169.55L505.5,164.01L506.0,158.51L506.5,153.07L507.0,147.70L507.5,142.42L508.0,137.22L508.5,132.14L509.0,127.18L509.5,122.36L510.0,117.69L510.5,113.19L511.0,108.87L511.5,104.75L512.0,100.83L512.5,97.14L513.0,93.69L513.5,90.50L514.0,87.56L514.5,84.90L515.0,82.53L515.5,80.45L516.0,78.67L516.5,77.21L517.0,76.07L517.5,75.25L518.0,74.76L518.5,74.59L519.0,74.76L519.5,75.25L520.0,76.07L520.5,77.21L521.0,78.67L521.5,80.45L522.0,82.53L522.5,84.90L523.0,87.56L523.5,90.50L524.0,93.69L524.5,97.14L525.0,100.83L525.5,104.75L526.0,108.87L526.5,113.19L527.0,117.69L527.5,122.36L528.0,127.18L528.5,132.14L529.0,137.22L529.5,142.42L530.0,147.70L530.5,153.07L531.0,158.51L531.5,164.01L532.0,169.55L532.5,175.12L533.0,180.72L533.5,186.32L534.0,191.93L534.5,197.54L535.0,203.12L535.5,208.69L536.0,214.22L536.5,219.72L537.0,225.18L537.5,230.58L538.0,235.94L538.5,241.23L539.0,246.46L539.5,251.63L540.0,256.73L540.5,261.75L541.0,266.71L541.5,271.58L542.0,276.38L542.5,281.10L543.0,285.74L543.5,290.29L544.0,294.77L544.5,299.16L545.0,303.47L545.5,307.70L546.0,311.85L546.5,315.91L547.0,319.89L547.5,323.79L548.0,327.62L548.5,331.36L549.0,335.02L549.5,338.61L550.0,342.12L550.5,345.56L551.0,348.92L551.5,352.21L552.0,355.42L552.5,358.57L553.0,361.65L553.5,364.66L554.0,367.60L554.5,370.48L555.0,373.29L555.5,376.05L556.0,378.74L556.5,381.37L557.0,383.94L557.5,386.45L558.0,388.91L558.5,391.32L559.0,393.67L559.5,395.97L560.0,398.21L560.5,400.41L561.0,402.56L561.5,404.66L562.0,406.72L562.5,408.73L563.0,410.69L563.5,412.62L564.0,414.50L564.5,416.34L565.0,418.14L565.5,419.90L566.0,421.62L566.5,423.31L567.0,424.96L567.5,426.57L568.0,428.15L568.5,429.70L569.0,431.21L569.5,432.69L570.0,434.14L570.5,435.56L571.0,436.95L571.5,438.32L572.0,439.65L572.5,440.96L573.0,442.24L573.5,443.49L574.0,444.72L574.5,445.92L575.0,447.10L575.5,448.25L576.0,449.39L576.5,450.49L577.0,451.58L577.5,452.65L578.0,453.69L578.5,454.72L579.0,455.72L579.5,456.71L580.0,457.67L580.5,458.62L581.0,459.55L581.5,460.46L582.0,461.36L582.5,462.24L583.0,463.10L583.5,463.94L584.0,464.77L584.5,465.59L585.0,466.38L585.5,467.17L586.0,467.94L586.5,468.69L587.0,469.44L587.5,470.17L588.0,470.88L588.5,471.59L589.0,472.28L589.5,472.95L590.0,473.62L590.5,474.28L591.0,474.92L591.5,475.55L592.0,476.17L592.5,476.78L593.0,477.38L593.5,477.97L594.0,478.55L594.5,479.12L595.0,479.68L595.5,480.24L596.0,480.78L596.5,481.31L597.0,481.84L597.5,482.35L598.0,482.86L598.5,483.36L599.0,483.85L599.5,484.33L600.0,484.81L600.5,485.27L601.0,485.73L601.5,486.19L602.0,486.63L602.5,487.07L603.0,487.50L603.5,487.93L604.0,488.35L604.5,488.76L605.0,489.17L605.5,489.57L606.0,489.96L606.5,490.35L607.0,490.73L607.5,491.10L608.0,491.48L608.5,491.84L609.0,492.20L609.5,492.55L610.0,492.90L610.5,493.25L611.0,493.59L611.5,493.92L612.0,494.25L612.5,494.57L613.0,494.89L613.5,495.21L614.0,495.52L614.5,495.82L615.0,496.13L615.5,496.42L616.0,496.72L616.5,497.01L617.0,497.29L617.5,497.58L618.0,497.85L618.5,498.13L619.0,498.40L619.5,498.66L620.0,498.93L620.5,499.19L621.0,499.44L621.5,499.69L622.0,499.94L622.5,500.19L623.0,500.43L623.5,500.67L624.0,500.91L624.5,501.14L625.0,501.37L625.5,501.60L626.0,501.82L626.5,502.04L627.0,502.26L627.5,502.48L628.0,502.69L628.5,502.90L629.0,503.11L629.5,503.31L630.0,503.52L630.5,503.72L631.0,503.91L631.5,504.11L632.0,504.30L632.5,504.49L633.0,504.68L633.5,504.87L634.0,505.05L634.5,505.23L635.0,505.41L635.5,505.59L636.0,505.76L636.5,505.94L637.0,506.11L637.5,506.27L638.0,506.44L638.5,506.61L639.0,506.77L639.5,506.93L640.0,507.09L640.5,507.25L641.0,507.40L641.5,507.56L642.0,507.71L642.5,507.86L643.0,508.01L643.5,508.15L644.0,508.30L644.5,508.44L645.0,508.58L645.5,508.72L646.0,508.86L646.5,509.00L647.0,509.14L647.5,509.27L648.0,509.40L648.5,509.53L649.0,509.66L649.5,509.79L650.0,509.92L650.5,510.04L651.0,510.17L651.5,510.29L652.0,510.41L652.5,510.53L653.0,510.65L653.5,510.77L654.0,510.89L654.5,511.00L655.0,511.12L655.5,511.23L656.0,511.34L656.5,511.45L657.0,511.56L657.5,511.67L658.0,511.78L658.5,511.88L659.0,511.99L659.5,512.09L660.0,512.20L660.5,512.30L661.0,512.40L661.5,512.50L662.0,512.60L662.5,512.70L663.0,512.79L663.5,512.89L664.0,512.99L664.5,513.08L665.0,513.17L665.5,513.26L666.0,513.36L666.5,513.45L667.0,513.54L667.5,513.63L668.0,513.71L668.5,513.80L669.0,513.89L669.5,513.97L670.0,514.06L670.5,514.14L671.0,514.22L671.5,514.31L672.0,514.39L672.5,514.47L673.0,514.55L673.5,514.63L674.0,514.71L674.5,514.78L675.0,514.86L675.5,514.94L676.0,515.01L676.5,515.09L677.0,515.16L677.5,515.24L678.0,515.31L678.5,515.38L679.0,515.45L679.5,515.52L680.0,515.59L680.5,515.66L681.0,515.73L681.5,515.80L682.0,515.87L682.5,515.94L683.0,516.00L683.5,516.07L684.0,516.13L684.5,516.20L685.0,516.26L685.5,516.33L686.0,516.39L686.5,516.45L687.0,516.52L687.5,516.58L688.0,516.64L688.5,516.70L689.0,516.76L689.5,516.82L690.0,516.88L690.5,516.94L691.0,516.99L691.5,517.05L692.0,517.11L692.5,517.17L693.0,517.22L693.5,517.28L694.0,517.33L694.5,517.39L695.0,517.44L695.5,517.50L696.0,517.55L696.5,517.60L697.0,517.65L697.5,517.71L698.0,517.76L698.5,517.81L699.0,517.86L699.5,517.91L700.0,517.96L700.5,518.01L701.0,518.06L701.5,518.11L702.0,518.16L702.5,518.21L703.0,518.25L703.5,518.30L704.0,518.35L704.5,518.39L705.0,518.44L705.5,518.49L706.0,518.53L706.5,518.58L707.0,518.62L707.5,518.67L708.0,518.71L708.5,518.75L709.0,518.80L709.5,518.84L710.0,518.88L710.5,518.93L711.0,518.97L711.5,519.01L712.0,519.05L712.5,519.09L713.0,519.13L713.5,519.17L714.0,519.21L714.5,519.25L715.0,519.29L715.5,519.33L716.0,519.37L716.5,519.41L717.0,519.45L717.5,519.49L718.0,519.53L718.5,519.56L719.0,519.60L719.5,519.64L720.0,519.68L720.5,519.71L721.0,519.75L721.5,519.78L722.0,519.82L722.5,519.86L723.0,519.89L723.5,519.93L724.0,519.96L724.5,520.00L725.0,520.03L725.5,520.06L726.0,520.10L726.5,520.13L727.0,520.16L727.5,520.20L728.0,520.23L728.5,520.26L729.0,520.30L729.5,520.33L730.0,520.36L730.5,520.39L731.0,520.42L731.5,520.45L732.0,520.49L732.5,520.52L733.0,520.55L733.5,520.58L734.0,520.61L734.5,520.64L735.0,520.67L735.5,520.70L736.0,520.73L736.5,520.76L737.0,520.78L737.5,520.81L738.0,520.84L738.5,520.87L739.0,520.90L739.5,520.93L740.0,520.95L740.5,520.98L741.0,521.01L741.5,521.04L742.0,521.06L742.5,521.09L743.0,521.12L743.5,521.15L744.0,521.17L744.5,521.20L745.0,521.22L745.5,521.25L746.0,521.28L746.5,521.30L747.0,521.33L747.5,521.35L748.0,521.38L748.5,521.40L749.0,521.43L749.5,521.45L750.0,521.48L750.5,521.50L751.0,521.52L751.5,521.55L752.0,521.57L752.5,521.60L753.0,521.62L753.5,521.64L754.0,521.67L754.5,521.69L755.0,521.71L755.5,521.74L756.0,521.76L756.5,521.78L757.0,521.80L757.5,521.83L758.0,521.85L758.5,521.87L759.0,521.89L759.5,521.91L760.0,521.93L760.5,521.96L761.0,521.98L761.5,522.00L762.0,522.02L762.5,522.04L763.0,522.06L763.5,522.08L764.0,522.10L764.5,522.12L765.0,522.14L765.5,522.16L766.0,522.18L766.5,522.20L767.0,522.22L767.5,522.24L768.0,522.26L768.5,522.28L769.0,522.30L769.5,522.32L770.0,522.34L770.5,522.36L771.0,522.38L771.5,522.40L772.0,522.42L772.5,522.44L773.0,522.45L773.5,522.47L774.0,522.49L774.5,522.51L775.0,522.53L775.5,522.54L776.0,522.56L776.5,522.58L777.0,522.60L777.5,522.62L778.0,522.63L778.5,522.65L779.0,522.67L779.5,522.68L780.0,522.70L780.5,522.72L781.0,522.74L781.5,522.75L782.0,522.77L782.5,522.79L783.0,522.80L783.5,522.82L784.0,522.83L784.5,522.85L785.0,522.87L785.5,522.88L786.0,522.90L786.5,522.92L787.0,522.93L787.5,522.95L788.0,522.96L788.5,522.98L789.0,522.99L789.5,523.01L790.0,523.02L790.5,523.04L791.0,523.05L791.5,523.07L792.0,523.08L792.5,523.10L793.0,523.11L793.5,523.13L794.0,523.14L794.5,523.16L795.0,523.17L795.5,523.19L796.0,523.20L796.5,523.22L797.0,523.23L797.5,523.24L798.0,523.26L798.5,523.27L799.0,523.29L799.5,523.30L800.0,523.31L800.5,523.33L801.0,523.34L801.5,523.35L802.0,523.37" fill="none" stroke="#1f6be0" stroke-opacity="0.55" stroke-width="5.6" stroke-linejoin="round"/>
</g>
<g fill="#000">
<rect x="134" y="525.40" width="7.5" height="3.6"/>
<rect x="134" y="434.86" width="7.5" height="3.6"/>
<rect x="134" y="344.32" width="7.5" height="3.6"/>
<rect x="134" y="253.78" width="7.5" height="3.6"/>
<rect x="134" y="163.24" width="7.5" height="3.6"/>
<rect x="134" y="72.70" width="7.5" height="3.6"/>
<rect x="134" y="480.13" width="2.7" height="3.6"/>
<rect x="134" y="389.59" width="2.7" height="3.6"/>
<rect x="134" y="299.05" width="2.7" height="3.6"/>
<rect x="134" y="208.51" width="2.7" height="3.6"/>
<rect x="134" y="117.97" width="2.7" height="3.6"/>
<rect x="134" y="27.43" width="2.7" height="3.6"/>
<rect x="297.70" y="539.3" width="3.6" height="8.5"/>
<rect x="465.70" y="539.3" width="3.6" height="8.5"/>
<rect x="633.70" y="539.3" width="3.6" height="8.5"/>
<rect x="213.70" y="544.2" width="3.6" height="3.5"/>
<rect x="381.70" y="544.2" width="3.6" height="3.5"/>
<rect x="549.70" y="544.2" width="3.6" height="3.5"/>
<rect x="717.70" y="544.2" width="3.6" height="3.5"/>
</g>
<rect x="130.5" y="2.0" width="674" height="2.4" fill="#bdbdbd"/>
<rect x="132.2" y="6.2" width="670.3" height="543.3" fill="none" stroke="#000" stroke-width="4.2"/>
<line x1="262.9" y1="696.4" x2="262.9" y2="1239" stroke="#c8c8c8" stroke-width="3.6" stroke-dasharray="13.2 5.0"/>
<g fill="#ff0000"><circle cx="150.2" cy="1141.1" r="7.3"/><circle cx="182.1" cy="1080.9" r="7.3"/><circle cx="197.9" cy="1027.7" r="7.3"/><circle cx="214" cy="985.6" r="7.3"/><circle cx="230.1" cy="918.2" r="7.3"/><circle cx="238.1" cy="867.4" r="7.3"/><circle cx="245.9" cy="836.6" r="7.3"/><circle cx="262.4" cy="789" r="7.3"/><circle cx="277.8" cy="830.3" r="7.3"/><circle cx="293.9" cy="858.6" r="7.3"/><circle cx="309.8" cy="918.2" r="7.3"/><circle cx="342.1" cy="973.8" r="7.3"/><circle cx="381.7" cy="1008.5" r="7.3"/><circle cx="422" cy="1035.9" r="7.3"/><circle cx="461.3" cy="1077.4" r="7.3"/><circle cx="501.3" cy="1094.6" r="7.3"/><circle cx="541.5" cy="1118.9" r="7.3"/><circle cx="581.5" cy="1129.8" r="7.3"/><circle cx="661.4" cy="1143.9" r="7.3"/><circle cx="741.3" cy="1175.9" r="7.3"/></g>
<rect x="149.4" y="1139.6" width="1.6" height="3.0" fill="#6a6a6a"/><rect x="139.7" y="1138.7" width="21" height="1.8" fill="#8a8a8a"/><rect x="139.7" y="1141.7" width="21" height="1.8" fill="#8a8a8a"/><rect x="181.3" y="1077.9" width="1.6" height="6.0" fill="#6a6a6a"/><rect x="171.6" y="1077.0" width="21" height="1.8" fill="#8a8a8a"/><rect x="171.6" y="1083.0" width="21" height="1.8" fill="#8a8a8a"/><rect x="197.1" y="1024.7" width="1.6" height="6.0" fill="#6a6a6a"/><rect x="187.4" y="1023.8" width="21" height="1.8" fill="#8a8a8a"/><rect x="187.4" y="1029.8" width="21" height="1.8" fill="#8a8a8a"/><rect x="213.2" y="981.6" width="1.6" height="8.0" fill="#6a6a6a"/><rect x="203.5" y="980.7" width="21" height="1.8" fill="#8a8a8a"/><rect x="203.5" y="988.7" width="21" height="1.8" fill="#8a8a8a"/><rect x="229.3" y="914.9" width="1.6" height="6.6" fill="#6a6a6a"/><rect x="219.6" y="914.0" width="21" height="1.8" fill="#8a8a8a"/><rect x="219.6" y="920.6" width="21" height="1.8" fill="#8a8a8a"/><rect x="237.3" y="863.4" width="1.6" height="8.0" fill="#6a6a6a"/><rect x="227.6" y="862.5" width="21" height="1.8" fill="#8a8a8a"/><rect x="227.6" y="870.5" width="21" height="1.8" fill="#8a8a8a"/><rect x="245.1" y="833.6" width="1.6" height="6.0" fill="#6a6a6a"/><rect x="235.4" y="832.7" width="21" height="1.8" fill="#8a8a8a"/><rect x="235.4" y="838.7" width="21" height="1.8" fill="#8a8a8a"/><rect x="261.6" y="786.3" width="1.6" height="5.4" fill="#6a6a6a"/><rect x="251.9" y="785.4" width="21" height="1.8" fill="#8a8a8a"/><rect x="251.9" y="790.8" width="21" height="1.8" fill="#8a8a8a"/><rect x="277.0" y="827.3" width="1.6" height="6.0" fill="#6a6a6a"/><rect x="267.3" y="826.4" width="21" height="1.8" fill="#8a8a8a"/><rect x="267.3" y="832.4" width="21" height="1.8" fill="#8a8a8a"/><rect x="293.1" y="855.6" width="1.6" height="6.0" fill="#6a6a6a"/><rect x="283.4" y="854.7" width="21" height="1.8" fill="#8a8a8a"/><rect x="283.4" y="860.7" width="21" height="1.8" fill="#8a8a8a"/><rect x="309.0" y="917.2" width="1.6" height="2.0" fill="#6a6a6a"/><rect x="299.3" y="916.3" width="21" height="1.8" fill="#8a8a8a"/><rect x="299.3" y="918.3" width="21" height="1.8" fill="#8a8a8a"/><rect x="341.3" y="969.8" width="1.6" height="8.0" fill="#6a6a6a"/><rect x="331.6" y="968.9" width="21" height="1.8" fill="#8a8a8a"/><rect x="331.6" y="976.9" width="21" height="1.8" fill="#8a8a8a"/><rect x="380.9" y="1005.5" width="1.6" height="6.0" fill="#6a6a6a"/><rect x="371.2" y="1004.6" width="21" height="1.8" fill="#8a8a8a"/><rect x="371.2" y="1010.6" width="21" height="1.8" fill="#8a8a8a"/><rect x="421.2" y="1032.9" width="1.6" height="6.0" fill="#6a6a6a"/><rect x="411.5" y="1032.0" width="21" height="1.8" fill="#8a8a8a"/><rect x="411.5" y="1038.0" width="21" height="1.8" fill="#8a8a8a"/><rect x="460.5" y="1071.7" width="1.6" height="11.4" fill="#6a6a6a"/><rect x="450.8" y="1070.8" width="21" height="1.8" fill="#8a8a8a"/><rect x="450.8" y="1082.2" width="21" height="1.8" fill="#8a8a8a"/><rect x="500.5" y="1091.2" width="1.6" height="6.8" fill="#6a6a6a"/><rect x="490.8" y="1090.3" width="21" height="1.8" fill="#8a8a8a"/><rect x="490.8" y="1097.1" width="21" height="1.8" fill="#8a8a8a"/><rect x="540.7" y="1115.9" width="1.6" height="6.0" fill="#6a6a6a"/><rect x="531.0" y="1115.0" width="21" height="1.8" fill="#8a8a8a"/><rect x="531.0" y="1121.0" width="21" height="1.8" fill="#8a8a8a"/><rect x="580.7" y="1126.8" width="1.6" height="6.0" fill="#6a6a6a"/><rect x="571.0" y="1125.9" width="21" height="1.8" fill="#8a8a8a"/><rect x="571.0" y="1131.9" width="21" height="1.8" fill="#8a8a8a"/><rect x="660.6" y="1142.9" width="1.6" height="2.0" fill="#6a6a6a"/><rect x="650.9" y="1142.0" width="21" height="1.8" fill="#8a8a8a"/><rect x="650.9" y="1144.0" width="21" height="1.8" fill="#8a8a8a"/><rect x="740.5" y="1169.3" width="1.6" height="13.2" fill="#6a6a6a"/><rect x="730.8" y="1168.4" width="21" height="1.8" fill="#8a8a8a"/><rect x="730.8" y="1181.6" width="21" height="1.8" fill="#8a8a8a"/>
<g fill="#000">
<rect x="135.7" y="737.70" width="9" height="3.6"/>
<rect x="135.7" y="821.28" width="9" height="3.6"/>
<rect x="135.7" y="904.86" width="9" height="3.6"/>
<rect x="135.7" y="988.44" width="9" height="3.6"/>
<rect x="135.7" y="1072.02" width="9" height="3.6"/>
<rect x="135.7" y="1155.60" width="9" height="3.6"/>
<rect x="135.7" y="1239.18" width="9" height="3.6"/>
<rect x="135.7" y="779.49" width="3.6" height="3.6"/>
<rect x="135.7" y="863.07" width="3.6" height="3.6"/>
<rect x="135.7" y="946.65" width="3.6" height="3.6"/>
<rect x="135.7" y="1030.23" width="3.6" height="3.6"/>
<rect x="135.7" y="1113.81" width="3.6" height="3.6"/>
<rect x="135.7" y="1197.39" width="3.6" height="3.6"/>
<rect x="147.80" y="1230.5" width="3.6" height="9"/>
<rect x="307.50" y="1230.5" width="3.6" height="9"/>
<rect x="467.20" y="1230.5" width="3.6" height="9"/>
<rect x="626.90" y="1230.5" width="3.6" height="9"/>
<rect x="786.60" y="1230.5" width="3.6" height="9"/>
<rect x="227.65" y="1235.5" width="3.6" height="4"/>
<rect x="387.35" y="1235.5" width="3.6" height="4"/>
<rect x="547.05" y="1235.5" width="3.6" height="4"/>
<rect x="706.75" y="1235.5" width="3.6" height="4"/>
</g>
<rect x="133.8" y="697.3" width="670.7" height="543.9" fill="none" stroke="#000" stroke-width="3.8"/>
<rect x="488" y="732.1" width="279" height="225.9" fill="#fff"/>
<g clip-path="url(#clipi)">
<g fill="#111"><circle cx="495.8" cy="946.7" r="3.35"/><circle cx="521.1" cy="945.4" r="3.35"/><circle cx="546.2" cy="942.9" r="3.35"/><circle cx="571.1" cy="935.8" r="3.35"/><circle cx="583.9" cy="926.6" r="3.35"/><circle cx="596" cy="911.2" r="3.35"/><circle cx="608.9" cy="886.3" r="3.35"/><circle cx="611.3" cy="871.6" r="3.35"/><circle cx="613.8" cy="858.6" r="3.35"/><circle cx="616.3" cy="842.1" r="3.35"/><circle cx="618.7" cy="817" r="3.35"/><circle cx="621.2" cy="789.6" r="3.35"/><circle cx="623.7" cy="776.1" r="3.35"/><circle cx="626.5" cy="759.5" r="3.35"/><circle cx="629.2" cy="769.5" r="3.35"/><circle cx="631.5" cy="787.2" r="3.35"/><circle cx="634" cy="800.9" r="3.35"/><circle cx="636.5" cy="830.2" r="3.35"/><circle cx="638.9" cy="843.8" r="3.35"/><circle cx="641.5" cy="863" r="3.35"/><circle cx="644.3" cy="878.4" r="3.35"/><circle cx="646.4" cy="887.2" r="3.35"/><circle cx="659" cy="911.2" r="3.35"/><circle cx="671.6" cy="927.1" r="3.35"/><circle cx="684" cy="936.2" r="3.35"/><circle cx="696.6" cy="940.5" r="3.35"/><circle cx="721.4" cy="944.9" r="3.35"/><circle cx="747.1" cy="946.5" r="3.35"/></g>
<path d="M488.0,945.37L488.5,945.35L489.0,945.34L489.5,945.33L490.0,945.31L490.5,945.30L491.0,945.28L491.5,945.27L492.0,945.26L492.5,945.24L493.0,945.23L493.5,945.21L494.0,945.20L494.5,945.18L495.0,945.17L495.5,945.15L496.0,945.14L496.5,945.12L497.0,945.10L497.5,945.09L498.0,945.07L498.5,945.05L499.0,945.04L499.5,945.02L500.0,945.00L500.5,944.99L501.0,944.97L501.5,944.95L502.0,944.93L502.5,944.91L503.0,944.90L503.5,944.88L504.0,944.86L504.5,944.84L505.0,944.82L505.5,944.80L506.0,944.78L506.5,944.76L507.0,944.74L507.5,944.72L508.0,944.70L508.5,944.68L509.0,944.66L509.5,944.64L510.0,944.61L510.5,944.59L511.0,944.57L511.5,944.55L512.0,944.52L512.5,944.50L513.0,944.48L513.5,944.45L514.0,944.43L514.5,944.40L515.0,944.38L515.5,944.35L516.0,944.33L516.5,944.30L517.0,944.28L517.5,944.25L518.0,944.22L518.5,944.20L519.0,944.17L519.5,944.14L520.0,944.11L520.5,944.08L521.0,944.05L521.5,944.02L522.0,943.99L522.5,943.96L523.0,943.93L523.5,943.90L524.0,943.87L524.5,943.84L525.0,943.80L525.5,943.77L526.0,943.74L526.5,943.70L527.0,943.67L527.5,943.63L528.0,943.60L528.5,943.56L529.0,943.52L529.5,943.49L530.0,943.45L530.5,943.41L531.0,943.37L531.5,943.33L532.0,943.29L532.5,943.25L533.0,943.21L533.5,943.17L534.0,943.13L534.5,943.08L535.0,943.04L535.5,942.99L536.0,942.95L536.5,942.90L537.0,942.85L537.5,942.81L538.0,942.76L538.5,942.71L539.0,942.66L539.5,942.61L540.0,942.56L540.5,942.50L541.0,942.45L541.5,942.39L542.0,942.34L542.5,942.28L543.0,942.23L543.5,942.17L544.0,942.11L544.5,942.05L545.0,941.99L545.5,941.92L546.0,941.86L546.5,941.79L547.0,941.73L547.5,941.66L548.0,941.59L548.5,941.52L549.0,941.45L549.5,941.38L550.0,941.31L550.5,941.23L551.0,941.15L551.5,941.08L552.0,941.00L552.5,940.92L553.0,940.83L553.5,940.75L554.0,940.66L554.5,940.58L555.0,940.49L555.5,940.40L556.0,940.30L556.5,940.21L557.0,940.11L557.5,940.01L558.0,939.91L558.5,939.81L559.0,939.70L559.5,939.60L560.0,939.49L560.5,939.38L561.0,939.26L561.5,939.15L562.0,939.03L562.5,938.90L563.0,938.78L563.5,938.65L564.0,938.52L564.5,938.39L565.0,938.25L565.5,938.11L566.0,937.97L566.5,937.83L567.0,937.68L567.5,937.52L568.0,937.37L568.5,937.21L569.0,937.04L569.5,936.88L570.0,936.71L570.5,936.53L571.0,936.35L571.5,936.16L572.0,935.97L572.5,935.78L573.0,935.58L573.5,935.38L574.0,935.17L574.5,934.95L575.0,934.73L575.5,934.50L576.0,934.27L576.5,934.03L577.0,933.79L577.5,933.53L578.0,933.27L578.5,933.01L579.0,932.73L579.5,932.45L580.0,932.16L580.5,931.86L581.0,931.56L581.5,931.24L582.0,930.92L582.5,930.58L583.0,930.24L583.5,929.88L584.0,929.51L584.5,929.14L585.0,928.75L585.5,928.34L586.0,927.93L586.5,927.50L587.0,927.06L587.5,926.61L588.0,926.14L588.5,925.65L589.0,925.15L589.5,924.63L590.0,924.09L590.5,923.54L591.0,922.96L591.5,922.37L592.0,921.75L592.5,921.11L593.0,920.45L593.5,919.77L594.0,919.06L594.5,918.33L595.0,917.56L595.5,916.77L596.0,915.95L596.5,915.10L597.0,914.22L597.5,913.30L598.0,912.34L598.5,911.35L599.0,910.32L599.5,909.25L600.0,908.13L600.5,906.97L601.0,905.76L601.5,904.51L602.0,903.20L602.5,901.83L603.0,900.41L603.5,898.93L604.0,897.39L604.5,895.78L605.0,894.11L605.5,892.36L606.0,890.54L606.5,888.64L607.0,886.66L607.5,884.59L608.0,882.44L608.5,880.19L609.0,877.85L609.5,875.41L610.0,872.87L610.5,870.23L611.0,867.48L611.5,864.62L612.0,861.64L612.5,858.56L613.0,855.36L613.5,852.04L614.0,848.62L614.5,845.07L615.0,841.42L615.5,837.67L616.0,833.81L616.5,829.87L617.0,825.84L617.5,821.75L618.0,817.60L618.5,813.42L619.0,809.22L619.5,805.02L620.0,800.86L620.5,796.77L621.0,792.76L621.5,788.88L622.0,785.17L622.5,781.66L623.0,778.38L623.5,775.38L624.0,772.69L624.5,770.35L625.0,768.39L625.5,766.83L626.0,765.70L626.5,765.02L627.0,764.79L627.5,765.02L628.0,765.70L628.5,766.83L629.0,768.39L629.5,770.35L630.0,772.69L630.5,775.38L631.0,778.38L631.5,781.66L632.0,785.17L632.5,788.88L633.0,792.76L633.5,796.77L634.0,800.86L634.5,805.02L635.0,809.22L635.5,813.42L636.0,817.60L636.5,821.75L637.0,825.84L637.5,829.87L638.0,833.81L638.5,837.67L639.0,841.42L639.5,845.07L640.0,848.62L640.5,852.04L641.0,855.36L641.5,858.56L642.0,861.64L642.5,864.62L643.0,867.48L643.5,870.23L644.0,872.87L644.5,875.41L645.0,877.85L645.5,880.19L646.0,882.44L646.5,884.59L647.0,886.66L647.5,888.64L648.0,890.54L648.5,892.36L649.0,894.11L649.5,895.78L650.0,897.39L650.5,898.93L651.0,900.41L651.5,901.83L652.0,903.20L652.5,904.51L653.0,905.76L653.5,906.97L654.0,908.13L654.5,909.25L655.0,910.32L655.5,911.35L656.0,912.34L656.5,913.30L657.0,914.22L657.5,915.10L658.0,915.95L658.5,916.77L659.0,917.56L659.5,918.33L660.0,919.06L660.5,919.77L661.0,920.45L661.5,921.11L662.0,921.75L662.5,922.37L663.0,922.96L663.5,923.54L664.0,924.09L664.5,924.63L665.0,925.15L665.5,925.65L666.0,926.14L666.5,926.61L667.0,927.06L667.5,927.50L668.0,927.93L668.5,928.34L669.0,928.75L669.5,929.14L670.0,929.51L670.5,929.88L671.0,930.24L671.5,930.58L672.0,930.92L672.5,931.24L673.0,931.56L673.5,931.86L674.0,932.16L674.5,932.45L675.0,932.73L675.5,933.01L676.0,933.27L676.5,933.53L677.0,933.79L677.5,934.03L678.0,934.27L678.5,934.50L679.0,934.73L679.5,934.95L680.0,935.17L680.5,935.38L681.0,935.58L681.5,935.78L682.0,935.97L682.5,936.16L683.0,936.35L683.5,936.53L684.0,936.71L684.5,936.88L685.0,937.04L685.5,937.21L686.0,937.37L686.5,937.52L687.0,937.68L687.5,937.83L688.0,937.97L688.5,938.11L689.0,938.25L689.5,938.39L690.0,938.52L690.5,938.65L691.0,938.78L691.5,938.90L692.0,939.03L692.5,939.15L693.0,939.26L693.5,939.38L694.0,939.49L694.5,939.60L695.0,939.70L695.5,939.81L696.0,939.91L696.5,940.01L697.0,940.11L697.5,940.21L698.0,940.30L698.5,940.40L699.0,940.49L699.5,940.58L700.0,940.66L700.5,940.75L701.0,940.83L701.5,940.92L702.0,941.00L702.5,941.08L703.0,941.15L703.5,941.23L704.0,941.31L704.5,941.38L705.0,941.45L705.5,941.52L706.0,941.59L706.5,941.66L707.0,941.73L707.5,941.79L708.0,941.86L708.5,941.92L709.0,941.99L709.5,942.05L710.0,942.11L710.5,942.17L711.0,942.23L711.5,942.28L712.0,942.34L712.5,942.39L713.0,942.45L713.5,942.50L714.0,942.56L714.5,942.61L715.0,942.66L715.5,942.71L716.0,942.76L716.5,942.81L717.0,942.85L717.5,942.90L718.0,942.95L718.5,942.99L719.0,943.04L719.5,943.08L720.0,943.13L720.5,943.17L721.0,943.21L721.5,943.25L722.0,943.29L722.5,943.33L723.0,943.37L723.5,943.41L724.0,943.45L724.5,943.49L725.0,943.52L725.5,943.56L726.0,943.60L726.5,943.63L727.0,943.67L727.5,943.70L728.0,943.74L728.5,943.77L729.0,943.80L729.5,943.84L730.0,943.87L730.5,943.90L731.0,943.93L731.5,943.96L732.0,943.99L732.5,944.02L733.0,944.05L733.5,944.08L734.0,944.11L734.5,944.14L735.0,944.17L735.5,944.20L736.0,944.22L736.5,944.25L737.0,944.28L737.5,944.30L738.0,944.33L738.5,944.35L739.0,944.38L739.5,944.40L740.0,944.43L740.5,944.45L741.0,944.48L741.5,944.50L742.0,944.52L742.5,944.55L743.0,944.57L743.5,944.59L744.0,944.61L744.5,944.64L745.0,944.66L745.5,944.68L746.0,944.70L746.5,944.72L747.0,944.74L747.5,944.76L748.0,944.78L748.5,944.80L749.0,944.82L749.5,944.84L750.0,944.86L750.5,944.88L751.0,944.90L751.5,944.91L752.0,944.93L752.5,944.95L753.0,944.97L753.5,944.99L754.0,945.00L754.5,945.02L755.0,945.04L755.5,945.05L756.0,945.07L756.5,945.09L757.0,945.10L757.5,945.12L758.0,945.14L758.5,945.15L759.0,945.17L759.5,945.18L760.0,945.20L760.5,945.21L761.0,945.23L761.5,945.24L762.0,945.26L762.5,945.27L763.0,945.28L763.5,945.30L764.0,945.31L764.5,945.33L765.0,945.34L765.5,945.35L766.0,945.37L766.5,945.38L767.0,945.39L767.5,945.41" fill="none" stroke="#f03030" stroke-opacity="0.7" stroke-width="3" stroke-linejoin="round"/>
</g>
<g fill="#000">
<rect x="490" y="943.50" width="2.2" height="3"/>
<rect x="490" y="850.80" width="2.2" height="3"/>
<rect x="490" y="758.10" width="2.2" height="3"/>
<rect x="556.00" y="953" width="3" height="3"/>
<rect x="625.70" y="953" width="3" height="3"/>
<rect x="695.40" y="953" width="3" height="3"/>
</g>
<rect x="488" y="732.1" width="279" height="225.9" fill="none" stroke="#000" stroke-width="4.4"/>
<g fill="#000"><rect x="124.40" y="577.40" width="19.70" height="1.60"/><rect x="291.20" y="577.40" width="19.70" height="1.60"/><rect x="626.90" y="577.10" width="18.60" height="1.60"/><rect x="635.40" y="568.50" width="1.60" height="18.70"/><rect x="795.90" y="577.10" width="18.60" height="1.60"/><rect x="804.40" y="568.50" width="1.60" height="18.70"/><rect x="71.90" y="740.20" width="19.50" height="1.60"/><rect x="71.90" y="823.78" width="19.50" height="1.60"/><rect x="71.90" y="907.36" width="19.50" height="1.60"/><rect x="71.90" y="990.94" width="19.50" height="1.60"/><rect x="71.90" y="1074.52" width="19.50" height="1.60"/><rect x="71.90" y="1158.10" width="19.50" height="1.60"/><rect x="71.90" y="1241.68" width="19.50" height="1.60"/><rect x="474.20" y="976.00" width="13.80" height="1.20"/><rect x="545.90" y="976.00" width="13.90" height="1.20"/></g>
<g font-family='"Liberation Serif", serif' font-size="40" opacity="0.999">
<g transform="matrix(0.9481,0,0,0.9288,161.804,53.905)" fill="#000" stroke="#fff" stroke-width="0.107"><text>(a)</text></g>
<g transform="matrix(0.7617,0,0,0.7556,81.557,537.022)" fill="#000" stroke="#fff" stroke-width="0.395"><text>0.0</text></g>
<g transform="matrix(0.7699,0,0,0.7556,81.545,446.482)" fill="#000" stroke="#fff" stroke-width="0.393"><text>0.2</text></g>
<g transform="matrix(0.7458,0,0,0.7556,81.581,355.942)" fill="#000" stroke="#fff" stroke-width="0.400"><text>0.4</text></g>
<g transform="matrix(0.7537,0,0,0.7556,81.569,265.402)" fill="#000" stroke="#fff" stroke-width="0.398"><text>0.6</text></g>
<g transform="matrix(0.7617,0,0,0.7556,81.557,174.862)" fill="#000" stroke="#fff" stroke-width="0.395"><text>0.8</text></g>
<g transform="matrix(0.7800,0,0,0.7556,80.670,84.322)" fill="#000" stroke="#fff" stroke-width="0.391"><text>1.0</text></g>
<g transform="matrix(0.7444,0,0,0.7333,97.856,585.833)" fill="#000" stroke="#fff" stroke-width="0.406"><text font-style="italic">δ</text></g>
<g transform="matrix(0.6800,0,0,0.5641,111.380,588.518)" fill="#000" stroke="#fff" stroke-width="0.482"><text>s</text></g>
<g transform="matrix(0.7528,0,0,0.7481,147.018,585.826)" fill="#000" stroke="#fff" stroke-width="0.400"><text>50</text></g>
<g transform="matrix(0.7444,0,0,0.7333,264.656,585.833)" fill="#000" stroke="#fff" stroke-width="0.406"><text font-style="italic">δ</text></g>
<g transform="matrix(0.6800,0,0,0.5641,278.180,588.518)" fill="#000" stroke="#fff" stroke-width="0.482"><text>s</text></g>
<g transform="matrix(0.7425,0,0,0.7623,314.215,586.200)" fill="#000" stroke="#fff" stroke-width="0.399"><text>25</text></g>
<g transform="matrix(0.7444,0,0,0.7333,455.256,585.833)" fill="#000" stroke="#fff" stroke-width="0.406"><text font-style="italic">δ</text></g>
<g transform="matrix(0.6800,0,0,0.5641,468.780,588.518)" fill="#000" stroke="#fff" stroke-width="0.482"><text>s</text></g>
<g transform="matrix(0.7333,0,0,0.7333,601.467,585.833)" fill="#000" stroke="#fff" stroke-width="0.409"><text font-style="italic">δ</text></g>
<g transform="matrix(0.6880,0,0,0.5641,614.668,588.518)" fill="#000" stroke="#fff" stroke-width="0.479"><text>s</text></g>
<g transform="matrix(0.7151,0,0,0.7623,647.270,586.200)" fill="#000" stroke="#fff" stroke-width="0.406"><text>25</text></g>
<g transform="matrix(0.7333,0,0,0.7333,770.467,585.833)" fill="#000" stroke="#fff" stroke-width="0.409"><text font-style="italic">δ</text></g>
<g transform="matrix(0.6880,0,0,0.5641,783.668,588.518)" fill="#000" stroke="#fff" stroke-width="0.479"><text>s</text></g>
<g transform="matrix(0.7250,0,0,0.7481,815.888,585.826)" fill="#000" stroke="#fff" stroke-width="0.407"><text>50</text></g>
<g transform="matrix(0.9860,0,0,0.9233,342.314,635.252)" fill="#000" stroke="#fff" stroke-width="0.105"><text>Frequency (Hz)</text></g>
<g transform="rotate(-90) matrix(1.0154,0,0,0.9123,-408.392,57.245)" fill="#000" stroke="#fff" stroke-width="0.104"><text><tspan font-style="italic">E</tspan><tspan font-size="28.00" dy="6.00">SIG</tspan><tspan dy="-6.00"> (arb. units)</tspan></text></g>
<g transform="matrix(0.9419,0,0,0.9178,161.816,741.499)" fill="#000" stroke="#fff" stroke-width="0.108"><text>(b)</text></g>
<g transform="matrix(0.7457,0,0,0.7407,94.090,749.130)" fill="#000" stroke="#fff" stroke-width="0.404"><text>10</text></g>
<g transform="matrix(0.7397,0,0,0.7407,94.321,832.710)" fill="#000" stroke="#fff" stroke-width="0.405"><text>20</text></g>
<g transform="matrix(0.7397,0,0,0.7407,94.321,916.290)" fill="#000" stroke="#fff" stroke-width="0.405"><text>30</text></g>
<g transform="matrix(0.7200,0,0,0.7407,95.080,999.870)" fill="#000" stroke="#fff" stroke-width="0.411"><text>40</text></g>
<g transform="matrix(0.7500,0,0,0.7407,93.925,1083.450)" fill="#000" stroke="#fff" stroke-width="0.402"><text>50</text></g>
<g transform="matrix(0.7297,0,0,0.7407,94.705,1167.030)" fill="#000" stroke="#fff" stroke-width="0.408"><text>60</text></g>
<g transform="matrix(0.7500,0,0,0.7407,93.925,1250.610)" fill="#000" stroke="#fff" stroke-width="0.402"><text>70</text></g>
<g transform="matrix(0.7434,0,0,0.7333,127.113,1274.933)" fill="#000" stroke="#fff" stroke-width="0.406"><text>338</text></g>
<g transform="matrix(0.7434,0,0,0.7333,286.813,1274.933)" fill="#000" stroke="#fff" stroke-width="0.406"><text>339</text></g>
<g transform="matrix(0.7434,0,0,0.7333,446.513,1274.933)" fill="#000" stroke="#fff" stroke-width="0.406"><text>340</text></g>
<g transform="matrix(0.7568,0,0,0.7333,606.186,1274.933)" fill="#000" stroke="#fff" stroke-width="0.403"><text>341</text></g>
<g transform="matrix(0.7500,0,0,0.7333,765.900,1274.933)" fill="#000" stroke="#fff" stroke-width="0.404"><text>342</text></g>
<g transform="matrix(0.9895,0,0,0.8919,300.711,1326.019)" fill="#000" stroke="#fff" stroke-width="0.106"><text>LO frequency (GHz)</text></g>
<g transform="rotate(-90) matrix(0.9921,0,0,0.7765,-1128.380,39.500)" fill="#000" stroke="#fff" stroke-width="0.113"><text>Signal (dBm·Hz<tspan font-size="28" dy="-15">−1</tspan><tspan dy="15">)</tspan></text></g>
<g transform="matrix(0.6230,0,0,0.6370,209.154,686.481)" fill="#808080" stroke="#fff" stroke-width="0.159"><text>338.7</text></g>
<g transform="matrix(0.7329,0,0,0.6370,270.701,686.481)" fill="#808080" stroke="#fff" stroke-width="0.146"><text>GHz</text></g>
<g transform="matrix(0.5404,0,0,0.5185,453.389,951.741)" fill="#000" stroke="#fff" stroke-width="0.378"><text>0.0</text></g>
<g transform="matrix(0.5404,0,0,0.5185,453.389,859.041)" fill="#000" stroke="#fff" stroke-width="0.378"><text>0.5</text></g>
<g transform="matrix(0.5644,0,0,0.5185,452.224,766.341)" fill="#000" stroke="#fff" stroke-width="0.369"><text>1.0</text></g>
<g transform="matrix(0.5405,0,0,0.4981,489.959,982.000)" fill="#000" stroke="#fff" stroke-width="0.385"><text>4</text></g>
<g transform="matrix(0.5500,0,0,0.4981,561.800,982.000)" fill="#000" stroke="#fff" stroke-width="0.382"><text>2</text></g>
<g transform="matrix(0.6176,0,0,0.4889,620.974,981.756)" fill="#000" stroke="#fff" stroke-width="0.361"><text>0</text></g>
<g transform="matrix(0.6125,0,0,0.4981,690.775,982.000)" fill="#000" stroke="#fff" stroke-width="0.360"><text>2</text></g>
<g transform="matrix(0.5243,0,0,0.4981,761.776,982.000)" fill="#000" stroke="#fff" stroke-width="0.391"><text>4</text></g>
<g transform="matrix(0.7168,0,0,0.6877,569.883,1015.655)" fill="#000" stroke="#fff" stroke-width="0.285"><text><tspan font-style="italic">δ</tspan><tspan font-size="28.00" dy="6.00">s</tspan><tspan dy="-6.00"> (MHz)</tspan></text></g>
<g transform="rotate(-90) matrix(0.7646,0,0,0.6904,-943.318,424.932)" fill="#000" stroke="#fff" stroke-width="0.275"><text><tspan font-style="italic">E</tspan><tspan font-size="28.00" dy="6.00">SIG</tspan><tspan dy="-6.00"> (arb. units)</tspan></text></g>
</g>
</svg></body></html>
